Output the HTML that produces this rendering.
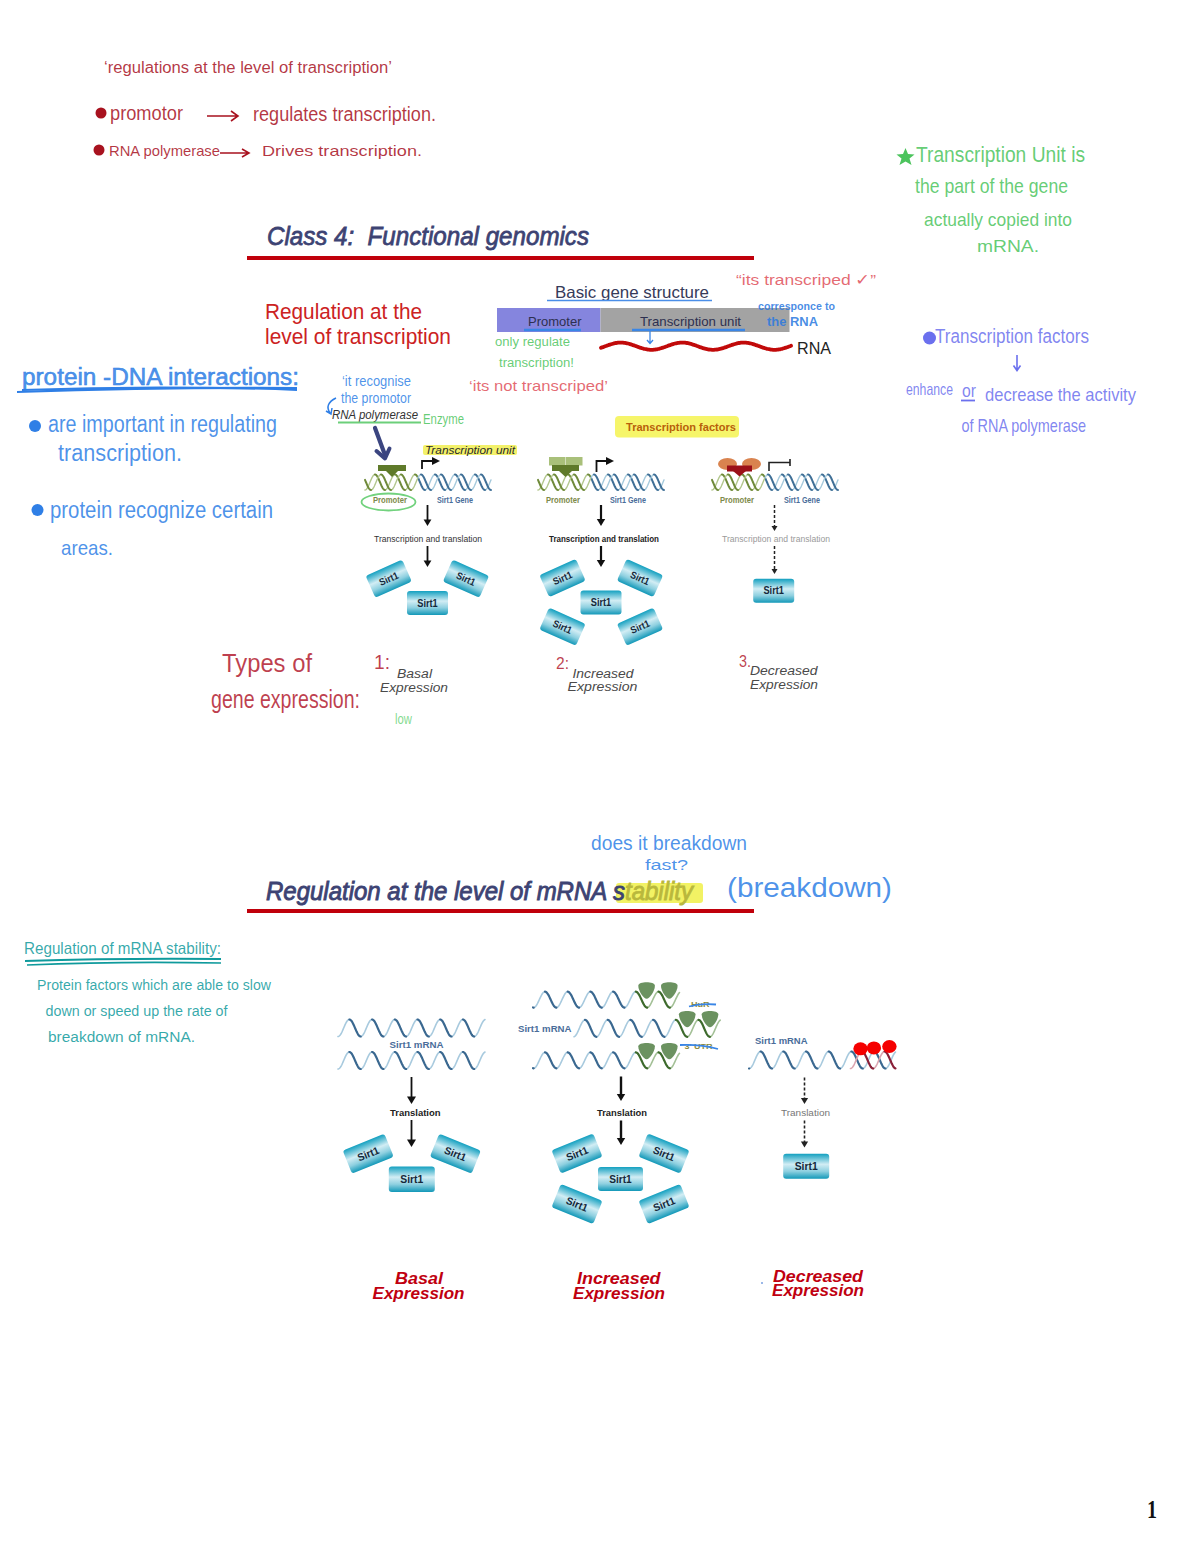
<!DOCTYPE html>
<html><head><meta charset="utf-8"><title>Class 4: Functional genomics</title>
<style>
html,body{margin:0;padding:0;background:#fff;}
body{width:1200px;height:1553px;overflow:hidden;font-family:"Liberation Sans",sans-serif;}
svg{display:block;}
</style></head>
<body>
<svg width="1200" height="1553" viewBox="0 0 1200 1553">
<defs>
<linearGradient id="tg" x1="0" y1="0" x2="0" y2="1">
<stop offset="0" stop-color="#13a0c0"/>
<stop offset="0.42" stop-color="#d2edf4"/>
<stop offset="0.7" stop-color="#8ed0e0"/>
<stop offset="1" stop-color="#1298b8"/>
</linearGradient>
</defs>
<rect x="0" y="0" width="1200" height="1553" fill="#fff"/>
<text x="104" y="73" font-size="16" fill="#a8121f" font-weight="normal" font-style="normal" font-family="Liberation Sans" textLength="288" lengthAdjust="spacingAndGlyphs"  fill-opacity="0.85">‘regulations at the level of transcription’</text>
<circle cx="101" cy="113" r="5.5" fill="#a8121f" />
<text x="110" y="120" font-size="20" fill="#a8121f" font-weight="normal" font-style="normal" font-family="Liberation Sans" textLength="73" lengthAdjust="spacingAndGlyphs"  fill-opacity="0.85">promotor</text>
<path d="M207,116 L238,116 M231,111 L238,116 L231,121" stroke="#a8121f" stroke-width="1.6" fill="none" />
<text x="253" y="121" font-size="20" fill="#a8121f" font-weight="normal" font-style="normal" font-family="Liberation Sans" textLength="183" lengthAdjust="spacingAndGlyphs"  fill-opacity="0.85">regulates transcription.</text>
<circle cx="99" cy="150" r="5.5" fill="#a8121f" />
<text x="109" y="156" font-size="15" fill="#a8121f" font-weight="normal" font-style="normal" font-family="Liberation Sans" textLength="111" lengthAdjust="spacingAndGlyphs"  fill-opacity="0.85">RNA polymerase</text>
<path d="M220,153 L249,153 M242,149 L249,153 L242,157" stroke="#a8121f" stroke-width="1.6" fill="none" />
<text x="262" y="156" font-size="15" fill="#a8121f" font-weight="normal" font-style="normal" font-family="Liberation Sans" textLength="160" lengthAdjust="spacingAndGlyphs"  fill-opacity="0.85">Drives transcription.</text>
<path d="M905.5,148 L908,154 L914.5,154.5 L909.5,158.5 L911.5,165 L905.5,161.5 L899.5,165 L901.5,158.5 L896.5,154.5 L903,154 Z" stroke="none" stroke-width="1" fill="#4cc45d" />
<text x="916" y="162" font-size="22" fill="#4cc45d" font-weight="normal" font-style="normal" font-family="Liberation Sans" textLength="169" lengthAdjust="spacingAndGlyphs"  fill-opacity="0.85">Transcription Unit is</text>
<text x="915" y="193" font-size="21" fill="#4cc45d" font-weight="normal" font-style="normal" font-family="Liberation Sans" textLength="153" lengthAdjust="spacingAndGlyphs"  fill-opacity="0.85">the part of the gene</text>
<text x="924" y="226" font-size="19" fill="#4cc45d" font-weight="normal" font-style="normal" font-family="Liberation Sans" textLength="148" lengthAdjust="spacingAndGlyphs"  fill-opacity="0.85">actually copied into</text>
<text x="977" y="252" font-size="17" fill="#4cc45d" font-weight="normal" font-style="normal" font-family="Liberation Sans" textLength="62" lengthAdjust="spacingAndGlyphs"  fill-opacity="0.85">mRNA.</text>
<circle cx="929.5" cy="338" r="6.5" fill="#6b70ee" />
<text x="935" y="342.5" font-size="20" fill="#6b70ee" font-weight="normal" font-style="normal" font-family="Liberation Sans" textLength="154" lengthAdjust="spacingAndGlyphs"  fill-opacity="0.85">Transcription factors</text>
<path d="M1017,355 L1017,370 M1013.5,365.5 L1017,370.5 L1020.5,365.5" stroke="#6b70ee" stroke-width="1.6" fill="none" />
<text x="906" y="395" font-size="17" fill="#6b70ee" font-weight="normal" font-style="normal" font-family="Liberation Sans" textLength="47" lengthAdjust="spacingAndGlyphs"  fill-opacity="0.85">enhance</text>
<text x="962" y="397" font-size="18" fill="#6b70ee" font-weight="normal" font-style="normal" font-family="Liberation Sans" textLength="14" lengthAdjust="spacingAndGlyphs"  fill-opacity="0.85">or</text>
<text x="985" y="401" font-size="19" fill="#6b70ee" font-weight="normal" font-style="normal" font-family="Liberation Sans" textLength="151" lengthAdjust="spacingAndGlyphs"  fill-opacity="0.85">decrease the activity</text>
<line x1="961" y1="400.5" x2="975" y2="400.5" stroke="#6b70ee" stroke-width="1.8" />
<text x="961.5" y="432" font-size="19" fill="#6b70ee" font-weight="normal" font-style="normal" font-family="Liberation Sans" textLength="124.5" lengthAdjust="spacingAndGlyphs"  fill-opacity="0.85">of RNA polymerase</text>
<text x="267" y="245" font-size="26" fill="#3d4373" font-weight="normal" font-style="italic" font-family="Liberation Sans" textLength="322" lengthAdjust="spacingAndGlyphs" stroke="#3d4373" stroke-width="0.8" xml:space="preserve">Class 4:  Functional genomics</text>
<rect x="247" y="256" width="507" height="4" fill="#c0000b" rx="0" />
<text x="265" y="319" font-size="21.5" fill="#cc2222" font-weight="normal" font-style="normal" font-family="Liberation Sans" textLength="157" lengthAdjust="spacingAndGlyphs" >Regulation at the</text>
<text x="265" y="344" font-size="21.5" fill="#cc2222" font-weight="normal" font-style="normal" font-family="Liberation Sans" textLength="186" lengthAdjust="spacingAndGlyphs" >level of transcription</text>
<text x="555" y="297.5" font-size="16.5" fill="#353a5a" font-weight="normal" font-style="normal" font-family="Liberation Sans" textLength="154" lengthAdjust="spacingAndGlyphs" >Basic gene structure</text>
<line x1="547" y1="300.5" x2="712" y2="300.5" stroke="#4a8ee8" stroke-width="1.5" />
<rect x="497" y="308" width="103.5" height="24" fill="#8585de" rx="0" />
<rect x="600.5" y="308" width="189" height="24" fill="#a3a3a3" rx="0" />
<text x="528" y="326" font-size="13" fill="#2d3050" font-weight="normal" font-style="normal" font-family="Liberation Sans" textLength="53.5" lengthAdjust="spacingAndGlyphs" >Promoter</text>
<text x="640" y="326" font-size="13" fill="#2d3050" font-weight="normal" font-style="normal" font-family="Liberation Sans" textLength="101" lengthAdjust="spacingAndGlyphs" >Transcription unit</text>
<line x1="524" y1="330" x2="581" y2="330" stroke="#3a86e6" stroke-width="2.5" />
<line x1="632" y1="330" x2="745" y2="330" stroke="#3a86e6" stroke-width="2.5" />
<path d="M650,331 L650,343 M647,340 L650,343.5 L653,340" stroke="#3a86e6" stroke-width="1.3" fill="none" />
<path d="M601,347.8 L602,347.4 L603,347.1 L604,346.7 L605,346.3 L606,346.0 L607,345.6 L608,345.3 L609,344.9 L610,344.6 L611,344.3 L612,344.0 L613,343.7 L614,343.4 L615,343.2 L616,343.0 L617,342.9 L618,342.7 L619,342.7 L620,342.6 L621,342.6 L622,342.6 L623,342.7 L624,342.8 L625,342.9 L626,343.1 L627,343.3 L628,343.5 L629,343.8 L630,344.1 L631,344.4 L632,344.7 L633,345.1 L634,345.4 L635,345.8 L636,346.1 L637,346.5 L638,346.9 L639,347.2 L640,347.6 L641,347.9 L642,348.2 L643,348.5 L644,348.8 L645,349.0 L646,349.2 L647,349.4 L648,349.6 L649,349.7 L650,349.8 L651,349.8 L652,349.8 L653,349.8 L654,349.7 L655,349.6 L656,349.4 L657,349.3 L658,349.0 L659,348.8 L660,348.5 L661,348.2 L662,347.9 L663,347.6 L664,347.3 L665,346.9 L666,346.5 L667,346.2 L668,345.8 L669,345.4 L670,345.1 L671,344.7 L672,344.4 L673,344.1 L674,343.8 L675,343.5 L676,343.3 L677,343.1 L678,342.9 L679,342.8 L680,342.7 L681,342.6 L682,342.6 L683,342.6 L684,342.7 L685,342.7 L686,342.9 L687,343.0 L688,343.2 L689,343.4 L690,343.7 L691,343.9 L692,344.2 L693,344.6 L694,344.9 L695,345.2 L696,345.6 L697,346.0 L698,346.3 L699,346.7 L700,347.1 L701,347.4 L702,347.7 L703,348.1 L704,348.4 L705,348.7 L706,348.9 L707,349.1 L708,349.3 L709,349.5 L710,349.6 L711,349.7 L712,349.8 L713,349.8 L714,349.8 L715,349.7 L716,349.6 L717,349.5 L718,349.3 L719,349.1 L720,348.9 L721,348.7 L722,348.4 L723,348.1 L724,347.8 L725,347.4 L726,347.1 L727,346.7 L728,346.3 L729,346.0 L730,345.6 L731,345.3 L732,344.9 L733,344.6 L734,344.3 L735,344.0 L736,343.7 L737,343.4 L738,343.2 L739,343.0 L740,342.9 L741,342.7 L742,342.7 L743,342.6 L744,342.6 L745,342.6 L746,342.7 L747,342.8 L748,342.9 L749,343.1 L750,343.3 L751,343.5 L752,343.8 L753,344.1 L754,344.4 L755,344.7 L756,345.1 L757,345.4 L758,345.8 L759,346.1 L760,346.5 L761,346.9 L762,347.2 L763,347.6 L764,347.9 L765,348.2 L766,348.5 L767,348.8 L768,349.0 L769,349.2 L770,349.4 L771,349.6 L772,349.7 L773,349.8 L774,349.8 L775,349.8 L776,349.8 L777,349.7 L778,349.6 L779,349.4 L780,349.3 L781,349.0 L782,348.8 L783,348.5 L784,348.2 L785,347.9 L786,347.6 L787,347.3 L788,346.9 L789,346.5 L790,346.2 L791,345.8" stroke="#c10a0a" stroke-width="3.8" fill="none" stroke-linecap="round"/>
<text x="797" y="354" font-size="16.5" fill="#222" font-weight="normal" font-style="normal" font-family="Liberation Sans" textLength="34" lengthAdjust="spacingAndGlyphs" >RNA</text>
<text x="736" y="285" font-size="15.5" fill="#e0505a" font-weight="normal" font-style="normal" font-family="Liberation Sans" textLength="140" lengthAdjust="spacingAndGlyphs"  fill-opacity="0.85">“its transcriped ✓”</text>
<text x="758" y="310" font-size="11" fill="#2a78e0" font-weight="bold" font-style="normal" font-family="Liberation Sans" textLength="77" lengthAdjust="spacingAndGlyphs"  fill-opacity="0.85">corresponce to</text>
<text x="767" y="326" font-size="12" fill="#2a78e0" font-weight="bold" font-style="normal" font-family="Liberation Sans" textLength="51" lengthAdjust="spacingAndGlyphs"  fill-opacity="0.85">the RNA</text>
<text x="495" y="346" font-size="12.5" fill="#4cc45d" font-weight="normal" font-style="normal" font-family="Liberation Sans" textLength="75" lengthAdjust="spacingAndGlyphs"  fill-opacity="0.85">only regulate</text>
<text x="499" y="367" font-size="12.5" fill="#4cc45d" font-weight="normal" font-style="normal" font-family="Liberation Sans" textLength="75" lengthAdjust="spacingAndGlyphs"  fill-opacity="0.85">transcription!</text>
<text x="469" y="391" font-size="14.5" fill="#e0505a" font-weight="normal" font-style="normal" font-family="Liberation Sans" textLength="139" lengthAdjust="spacingAndGlyphs"  fill-opacity="0.85">‘its not transcriped’</text>
<text x="22" y="385" font-size="23" fill="#2f7fe6" font-weight="normal" font-style="normal" font-family="Liberation Sans" textLength="277" lengthAdjust="spacingAndGlyphs" stroke="#2f7fe6" stroke-width="0.5" fill-opacity="0.85">protein -DNA interactions:</text>
<path d="M17,392 Q160,387 297,388" stroke="#2f7fe6" stroke-width="2.2" fill="none" />
<path d="M22,390 Q160,385 297,390" stroke="#2f7fe6" stroke-width="1.8" fill="none" />
<circle cx="35" cy="426" r="6" fill="#2f7fe6" />
<text x="48" y="432" font-size="23" fill="#2f7fe6" font-weight="normal" font-style="normal" font-family="Liberation Sans" textLength="229" lengthAdjust="spacingAndGlyphs"  fill-opacity="0.85">are important in regulating</text>
<text x="58" y="461" font-size="23" fill="#2f7fe6" font-weight="normal" font-style="normal" font-family="Liberation Sans" textLength="124" lengthAdjust="spacingAndGlyphs"  fill-opacity="0.85">transcription.</text>
<circle cx="37.5" cy="510" r="6" fill="#2f7fe6" />
<text x="50" y="518" font-size="23" fill="#2f7fe6" font-weight="normal" font-style="normal" font-family="Liberation Sans" textLength="223" lengthAdjust="spacingAndGlyphs"  fill-opacity="0.85">protein recognize certain</text>
<text x="61" y="555" font-size="21" fill="#2f7fe6" font-weight="normal" font-style="normal" font-family="Liberation Sans" textLength="52" lengthAdjust="spacingAndGlyphs"  fill-opacity="0.85">areas.</text>
<text x="342" y="386" font-size="14" fill="#2f7fe6" font-weight="normal" font-style="normal" font-family="Liberation Sans" textLength="69" lengthAdjust="spacingAndGlyphs"  fill-opacity="0.85">‘it recognise</text>
<text x="341" y="402.5" font-size="14" fill="#2f7fe6" font-weight="normal" font-style="normal" font-family="Liberation Sans" textLength="70" lengthAdjust="spacingAndGlyphs"  fill-opacity="0.85">the promotor</text>
<path d="M336,398 Q324,404 330,413 M326,411 L331,414 L332,408" stroke="#2f7fe6" stroke-width="1.5" fill="none" />
<text x="332" y="419" font-size="12" fill="#333" font-weight="normal" font-style="italic" font-family="Liberation Sans" textLength="86" lengthAdjust="spacingAndGlyphs" >RNA polymerase</text>
<line x1="338" y1="422.5" x2="421" y2="422.5" stroke="#6ccf7a" stroke-width="1.8" />
<text x="423" y="424" font-size="14" fill="#4cc45d" font-weight="normal" font-style="normal" font-family="Liberation Sans" textLength="41" lengthAdjust="spacingAndGlyphs"  fill-opacity="0.85">Enzyme</text>
<path d="M375,428 L385,455" stroke="#3b4580" stroke-width="4.2" fill="none" stroke-linecap="round"/>
<path d="M376.5,451 L385,458.5 L389.5,448.5" stroke="#3b4580" stroke-width="4" fill="none" stroke-linecap="round" stroke-linejoin="round"/>
<rect x="423" y="445" width="94" height="10" fill="#f3f16a" rx="2" />
<text x="425" y="453.5" font-size="11" fill="#2a2a2a" font-weight="normal" font-style="italic" font-family="Liberation Sans" textLength="90" lengthAdjust="spacingAndGlyphs" >Transcription unit</text>
<rect x="615" y="416" width="124" height="21.5" fill="#f6f56a" rx="4" />
<text x="626" y="431" font-size="11.5" fill="#b8600a" font-weight="bold" font-style="normal" font-family="Liberation Sans" textLength="110" lengthAdjust="spacingAndGlyphs" >Transcription factors</text>
<path d="M365.00,490.00 L365.50,489.90 L366.00,489.62 L366.50,489.16 L367.00,488.52 L367.50,487.73 L368.00,486.81 L368.50,485.77 L369.00,484.64 L369.50,483.46 L370.00,482.25 L370.50,481.04 L371.00,479.86 L371.50,478.73 L372.00,477.69 L372.50,476.77 L373.00,475.98 L373.50,475.34 L374.00,474.88 L374.50,474.60 L375.00,474.50 M385.00,490.00 L385.50,489.90 L386.00,489.62 L386.50,489.16 L387.00,488.52 L387.50,487.73 L388.00,486.81 L388.50,485.77 L389.00,484.64 L389.50,483.46 L390.00,482.25 L390.50,481.04 L391.00,479.86 L391.50,478.73 L392.00,477.69 L392.50,476.77 L393.00,475.98 L393.50,475.34 L394.00,474.88 L394.50,474.60 L395.00,474.50 M405.00,490.00 L405.50,489.90 L406.00,489.62 L406.50,489.16 L407.00,488.52 L407.50,487.73 L408.00,486.81 L408.50,485.77 L409.00,484.64 L409.50,483.46 L410.00,482.25 L410.50,481.04 L411.00,479.86 L411.50,478.73 L412.00,477.69 L412.50,476.77 L413.00,475.98 L413.50,475.34 L414.00,474.88 L414.50,474.60 L415.00,474.50" stroke="#b3c78e" stroke-width="1.4" fill="none" stroke-linecap="round"/>
<path d="M375.00,474.50 L375.50,474.60 L376.00,474.88 L376.50,475.34 L377.00,475.98 L377.50,476.77 L378.00,477.69 L378.50,478.73 L379.00,479.86 L379.50,481.04 L380.00,482.25 L380.50,483.46 L381.00,484.64 L381.50,485.77 L382.00,486.81 L382.50,487.73 L383.00,488.52 L383.50,489.16 L384.00,489.62 L384.50,489.90 L385.00,490.00 M395.00,474.50 L395.50,474.60 L396.00,474.88 L396.50,475.34 L397.00,475.98 L397.50,476.77 L398.00,477.69 L398.50,478.73 L399.00,479.86 L399.50,481.04 L400.00,482.25 L400.50,483.46 L401.00,484.64 L401.50,485.77 L402.00,486.81 L402.50,487.73 L403.00,488.52 L403.50,489.16 L404.00,489.62 L404.50,489.90 L405.00,490.00 M415.00,474.50 L415.50,474.60 L416.00,474.88 L416.50,475.34 L417.00,475.98 L417.50,476.77 L418.00,477.69" stroke="#6f8a3a" stroke-width="2.0" fill="none" stroke-linecap="round"/>
<path d="M425.00,490.00 L425.50,489.90 L426.00,489.62 L426.50,489.16 L427.00,488.52 L427.50,487.73 L428.00,486.81 L428.50,485.77 L429.00,484.64 L429.50,483.46 L430.00,482.25 L430.50,481.04 L431.00,479.86 L431.50,478.73 L432.00,477.69 L432.50,476.77 L433.00,475.98 L433.50,475.34 L434.00,474.88 L434.50,474.60 L435.00,474.50 M445.00,490.00 L445.50,489.90 L446.00,489.62 L446.50,489.16 L447.00,488.52 L447.50,487.73 L448.00,486.81 L448.50,485.77 L449.00,484.64 L449.50,483.46 L450.00,482.25 L450.50,481.04 L451.00,479.86 L451.50,478.73 L452.00,477.69 L452.50,476.77 L453.00,475.98 L453.50,475.34 L454.00,474.88 L454.50,474.60 L455.00,474.50 M465.00,490.00 L465.50,489.90 L466.00,489.62 L466.50,489.16 L467.00,488.52 L467.50,487.73 L468.00,486.81 L468.50,485.77 L469.00,484.64 L469.50,483.46 L470.00,482.25 L470.50,481.04 L471.00,479.86 L471.50,478.73 L472.00,477.69 L472.50,476.77 L473.00,475.98 L473.50,475.34 L474.00,474.88 L474.50,474.60 L475.00,474.50 M485.00,490.00 L485.50,489.90 L486.00,489.62 L486.50,489.16 L487.00,488.52 L487.50,487.73 L488.00,486.81 L488.50,485.77 L489.00,484.64 L489.50,483.46 L490.00,482.25 L490.50,481.04 L491.00,479.86" stroke="#a6cadc" stroke-width="1.4" fill="none" stroke-linecap="round"/>
<path d="M418.00,477.69 L418.50,478.73 L419.00,479.86 L419.50,481.04 L420.00,482.25 L420.50,483.46 L421.00,484.64 L421.50,485.77 L422.00,486.81 L422.50,487.73 L423.00,488.52 L423.50,489.16 L424.00,489.62 L424.50,489.90 L425.00,490.00 M435.00,474.50 L435.50,474.60 L436.00,474.88 L436.50,475.34 L437.00,475.98 L437.50,476.77 L438.00,477.69 L438.50,478.73 L439.00,479.86 L439.50,481.04 L440.00,482.25 L440.50,483.46 L441.00,484.64 L441.50,485.77 L442.00,486.81 L442.50,487.73 L443.00,488.52 L443.50,489.16 L444.00,489.62 L444.50,489.90 L445.00,490.00 M455.00,474.50 L455.50,474.60 L456.00,474.88 L456.50,475.34 L457.00,475.98 L457.50,476.77 L458.00,477.69 L458.50,478.73 L459.00,479.86 L459.50,481.04 L460.00,482.25 L460.50,483.46 L461.00,484.64 L461.50,485.77 L462.00,486.81 L462.50,487.73 L463.00,488.52 L463.50,489.16 L464.00,489.62 L464.50,489.90 L465.00,490.00 M475.00,474.50 L475.50,474.60 L476.00,474.88 L476.50,475.34 L477.00,475.98 L477.50,476.77 L478.00,477.69 L478.50,478.73 L479.00,479.86 L479.50,481.04 L480.00,482.25 L480.50,483.46 L481.00,484.64 L481.50,485.77 L482.00,486.81 L482.50,487.73 L483.00,488.52 L483.50,489.16 L484.00,489.62 L484.50,489.90 L485.00,490.00" stroke="#3f6f96" stroke-width="2.0" fill="none" stroke-linecap="round"/>
<path d="M371.00,490.00 L371.50,489.90 L372.00,489.62 L372.50,489.16 L373.00,488.52 L373.50,487.73 L374.00,486.81 L374.50,485.77 L375.00,484.64 L375.50,483.46 L376.00,482.25 L376.50,481.04 L377.00,479.86 L377.50,478.73 L378.00,477.69 L378.50,476.77 L379.00,475.98 L379.50,475.34 L380.00,474.88 L380.50,474.60 L381.00,474.50 M391.00,490.00 L391.50,489.90 L392.00,489.62 L392.50,489.16 L393.00,488.52 L393.50,487.73 L394.00,486.81 L394.50,485.77 L395.00,484.64 L395.50,483.46 L396.00,482.25 L396.50,481.04 L397.00,479.86 L397.50,478.73 L398.00,477.69 L398.50,476.77 L399.00,475.98 L399.50,475.34 L400.00,474.88 L400.50,474.60 L401.00,474.50 M411.00,490.00 L411.50,489.90 L412.00,489.62 L412.50,489.16 L413.00,488.52 L413.50,487.73 L414.00,486.81 L414.50,485.77 L415.00,484.64 L415.50,483.46 L416.00,482.25 L416.50,481.04 L417.00,479.86 L417.50,478.73 L418.00,477.69" stroke="#b3c78e" stroke-width="1.4" fill="none" stroke-linecap="round"/>
<path d="M365.00,479.86 L365.50,481.04 L366.00,482.25 L366.50,483.46 L367.00,484.64 L367.50,485.77 L368.00,486.81 L368.50,487.73 L369.00,488.52 L369.50,489.16 L370.00,489.62 L370.50,489.90 L371.00,490.00 M381.00,474.50 L381.50,474.60 L382.00,474.88 L382.50,475.34 L383.00,475.98 L383.50,476.77 L384.00,477.69 L384.50,478.73 L385.00,479.86 L385.50,481.04 L386.00,482.25 L386.50,483.46 L387.00,484.64 L387.50,485.77 L388.00,486.81 L388.50,487.73 L389.00,488.52 L389.50,489.16 L390.00,489.62 L390.50,489.90 L391.00,490.00 M401.00,474.50 L401.50,474.60 L402.00,474.88 L402.50,475.34 L403.00,475.98 L403.50,476.77 L404.00,477.69 L404.50,478.73 L405.00,479.86 L405.50,481.04 L406.00,482.25 L406.50,483.46 L407.00,484.64 L407.50,485.77 L408.00,486.81 L408.50,487.73 L409.00,488.52 L409.50,489.16 L410.00,489.62 L410.50,489.90 L411.00,490.00" stroke="#6f8a3a" stroke-width="2.0" fill="none" stroke-linecap="round"/>
<path d="M418.00,477.69 L418.50,476.77 L419.00,475.98 L419.50,475.34 L420.00,474.88 L420.50,474.60 L421.00,474.50 M431.00,490.00 L431.50,489.90 L432.00,489.62 L432.50,489.16 L433.00,488.52 L433.50,487.73 L434.00,486.81 L434.50,485.77 L435.00,484.64 L435.50,483.46 L436.00,482.25 L436.50,481.04 L437.00,479.86 L437.50,478.73 L438.00,477.69 L438.50,476.77 L439.00,475.98 L439.50,475.34 L440.00,474.88 L440.50,474.60 L441.00,474.50 M451.00,490.00 L451.50,489.90 L452.00,489.62 L452.50,489.16 L453.00,488.52 L453.50,487.73 L454.00,486.81 L454.50,485.77 L455.00,484.64 L455.50,483.46 L456.00,482.25 L456.50,481.04 L457.00,479.86 L457.50,478.73 L458.00,477.69 L458.50,476.77 L459.00,475.98 L459.50,475.34 L460.00,474.88 L460.50,474.60 L461.00,474.50 M471.00,490.00 L471.50,489.90 L472.00,489.62 L472.50,489.16 L473.00,488.52 L473.50,487.73 L474.00,486.81 L474.50,485.77 L475.00,484.64 L475.50,483.46 L476.00,482.25 L476.50,481.04 L477.00,479.86 L477.50,478.73 L478.00,477.69 L478.50,476.77 L479.00,475.98 L479.50,475.34 L480.00,474.88 L480.50,474.60 L481.00,474.50" stroke="#a6cadc" stroke-width="1.4" fill="none" stroke-linecap="round"/>
<path d="M421.00,474.50 L421.50,474.60 L422.00,474.88 L422.50,475.34 L423.00,475.98 L423.50,476.77 L424.00,477.69 L424.50,478.73 L425.00,479.86 L425.50,481.04 L426.00,482.25 L426.50,483.46 L427.00,484.64 L427.50,485.77 L428.00,486.81 L428.50,487.73 L429.00,488.52 L429.50,489.16 L430.00,489.62 L430.50,489.90 L431.00,490.00 M441.00,474.50 L441.50,474.60 L442.00,474.88 L442.50,475.34 L443.00,475.98 L443.50,476.77 L444.00,477.69 L444.50,478.73 L445.00,479.86 L445.50,481.04 L446.00,482.25 L446.50,483.46 L447.00,484.64 L447.50,485.77 L448.00,486.81 L448.50,487.73 L449.00,488.52 L449.50,489.16 L450.00,489.62 L450.50,489.90 L451.00,490.00 M461.00,474.50 L461.50,474.60 L462.00,474.88 L462.50,475.34 L463.00,475.98 L463.50,476.77 L464.00,477.69 L464.50,478.73 L465.00,479.86 L465.50,481.04 L466.00,482.25 L466.50,483.46 L467.00,484.64 L467.50,485.77 L468.00,486.81 L468.50,487.73 L469.00,488.52 L469.50,489.16 L470.00,489.62 L470.50,489.90 L471.00,490.00 M481.00,474.50 L481.50,474.60 L482.00,474.88 L482.50,475.34 L483.00,475.98 L483.50,476.77 L484.00,477.69 L484.50,478.73 L485.00,479.86 L485.50,481.04 L486.00,482.25 L486.50,483.46 L487.00,484.64 L487.50,485.77 L488.00,486.81 L488.50,487.73 L489.00,488.52 L489.50,489.16 L490.00,489.62 L490.50,489.90 L491.00,490.00" stroke="#3f6f96" stroke-width="2.0" fill="none" stroke-linecap="round"/>
<text x="373" y="503" font-size="8.5" fill="#7d8a4a" font-weight="bold" font-style="normal" font-family="Liberation Sans" textLength="34" lengthAdjust="spacingAndGlyphs" >Promoter</text>
<text x="437" y="503" font-size="8.5" fill="#4a6d9a" font-weight="bold" font-style="normal" font-family="Liberation Sans" textLength="36" lengthAdjust="spacingAndGlyphs" >Sirt1 Gene</text>
<rect x="378" y="465" width="28" height="6" fill="#5f7a2a" rx="0" />
<path d="M386,471 L398,471 L392,477 Z" stroke="none" stroke-width="1" fill="#5f7a2a" />
<path d="M422,469 L422,461 L433,461" stroke="#111" stroke-width="1.8" fill="none" />
<path d="M432,457 L440,461 L432,465 Z" stroke="none" stroke-width="1" fill="#111" />
<ellipse cx="388.5" cy="502" rx="27" ry="8.5" fill="none" stroke="#72d27e" stroke-width="1.8"/>
<line x1="427.5" y1="505" x2="427.5" y2="520.5" stroke="#111" stroke-width="1.8" />
<path d="M423.6,519.5 L431.4,519.5 L427.5,526 Z" stroke="none" stroke-width="1" fill="#111" />
<text x="374" y="542" font-size="9" fill="#333" font-weight="normal" font-style="normal" font-family="Liberation Sans" textLength="108" lengthAdjust="spacingAndGlyphs" >Transcription and translation</text>
<line x1="427.5" y1="546" x2="427.5" y2="561.5" stroke="#111" stroke-width="1.8" />
<path d="M423.6,560.5 L431.4,560.5 L427.5,567 Z" stroke="none" stroke-width="1" fill="#111" />
<g transform="translate(388.7,578.7) rotate(-24)">
<rect x="-20.0" y="-12.0" width="40" height="24" rx="3" fill="url(#tg)"/>
<text x="0" y="3.6" text-anchor="middle" font-size="10" font-family="Liberation Sans" font-weight="bold" fill="#15283a" textLength="20.0" lengthAdjust="spacingAndGlyphs">Sirt1</text>
</g>
<g transform="translate(466,578.7) rotate(24)">
<rect x="-20.0" y="-12.0" width="40" height="24" rx="3" fill="url(#tg)"/>
<text x="0" y="3.6" text-anchor="middle" font-size="10" font-family="Liberation Sans" font-weight="bold" fill="#15283a" textLength="20.0" lengthAdjust="spacingAndGlyphs">Sirt1</text>
</g>
<g transform="translate(427.5,603) rotate(0)">
<rect x="-20.5" y="-12.0" width="41" height="24" rx="3" fill="url(#tg)"/>
<text x="0" y="3.6" text-anchor="middle" font-size="10" font-family="Liberation Sans" font-weight="bold" fill="#15283a" textLength="20.5" lengthAdjust="spacingAndGlyphs">Sirt1</text>
</g>
<path d="M538.00,490.00 L538.50,489.90 L539.00,489.62 L539.50,489.16 L540.00,488.52 L540.50,487.73 L541.00,486.81 L541.50,485.77 L542.00,484.64 L542.50,483.46 L543.00,482.25 L543.50,481.04 L544.00,479.86 L544.50,478.73 L545.00,477.69 L545.50,476.77 L546.00,475.98 L546.50,475.34 L547.00,474.88 L547.50,474.60 L548.00,474.50 M558.00,490.00 L558.50,489.90 L559.00,489.62 L559.50,489.16 L560.00,488.52 L560.50,487.73 L561.00,486.81 L561.50,485.77 L562.00,484.64 L562.50,483.46 L563.00,482.25 L563.50,481.04 L564.00,479.86 L564.50,478.73 L565.00,477.69 L565.50,476.77 L566.00,475.98 L566.50,475.34 L567.00,474.88 L567.50,474.60 L568.00,474.50 M578.00,490.00 L578.50,489.90 L579.00,489.62 L579.50,489.16 L580.00,488.52 L580.50,487.73 L581.00,486.81 L581.50,485.77 L582.00,484.64 L582.50,483.46 L583.00,482.25 L583.50,481.04 L584.00,479.86 L584.50,478.73 L585.00,477.69 L585.50,476.77 L586.00,475.98 L586.50,475.34 L587.00,474.88 L587.50,474.60 L588.00,474.50" stroke="#b3c78e" stroke-width="1.4" fill="none" stroke-linecap="round"/>
<path d="M548.00,474.50 L548.50,474.60 L549.00,474.88 L549.50,475.34 L550.00,475.98 L550.50,476.77 L551.00,477.69 L551.50,478.73 L552.00,479.86 L552.50,481.04 L553.00,482.25 L553.50,483.46 L554.00,484.64 L554.50,485.77 L555.00,486.81 L555.50,487.73 L556.00,488.52 L556.50,489.16 L557.00,489.62 L557.50,489.90 L558.00,490.00 M568.00,474.50 L568.50,474.60 L569.00,474.88 L569.50,475.34 L570.00,475.98 L570.50,476.77 L571.00,477.69 L571.50,478.73 L572.00,479.86 L572.50,481.04 L573.00,482.25 L573.50,483.46 L574.00,484.64 L574.50,485.77 L575.00,486.81 L575.50,487.73 L576.00,488.52 L576.50,489.16 L577.00,489.62 L577.50,489.90 L578.00,490.00 M588.00,474.50 L588.50,474.60 L589.00,474.88 L589.50,475.34 L590.00,475.98 L590.50,476.77 L591.00,477.69" stroke="#6f8a3a" stroke-width="2.0" fill="none" stroke-linecap="round"/>
<path d="M598.00,490.00 L598.50,489.90 L599.00,489.62 L599.50,489.16 L600.00,488.52 L600.50,487.73 L601.00,486.81 L601.50,485.77 L602.00,484.64 L602.50,483.46 L603.00,482.25 L603.50,481.04 L604.00,479.86 L604.50,478.73 L605.00,477.69 L605.50,476.77 L606.00,475.98 L606.50,475.34 L607.00,474.88 L607.50,474.60 L608.00,474.50 M618.00,490.00 L618.50,489.90 L619.00,489.62 L619.50,489.16 L620.00,488.52 L620.50,487.73 L621.00,486.81 L621.50,485.77 L622.00,484.64 L622.50,483.46 L623.00,482.25 L623.50,481.04 L624.00,479.86 L624.50,478.73 L625.00,477.69 L625.50,476.77 L626.00,475.98 L626.50,475.34 L627.00,474.88 L627.50,474.60 L628.00,474.50 M638.00,490.00 L638.50,489.90 L639.00,489.62 L639.50,489.16 L640.00,488.52 L640.50,487.73 L641.00,486.81 L641.50,485.77 L642.00,484.64 L642.50,483.46 L643.00,482.25 L643.50,481.04 L644.00,479.86 L644.50,478.73 L645.00,477.69 L645.50,476.77 L646.00,475.98 L646.50,475.34 L647.00,474.88 L647.50,474.60 L648.00,474.50 M658.00,490.00 L658.50,489.90 L659.00,489.62 L659.50,489.16 L660.00,488.52 L660.50,487.73 L661.00,486.81 L661.50,485.77 L662.00,484.64 L662.50,483.46 L663.00,482.25 L663.50,481.04 L664.00,479.86" stroke="#a6cadc" stroke-width="1.4" fill="none" stroke-linecap="round"/>
<path d="M591.00,477.69 L591.50,478.73 L592.00,479.86 L592.50,481.04 L593.00,482.25 L593.50,483.46 L594.00,484.64 L594.50,485.77 L595.00,486.81 L595.50,487.73 L596.00,488.52 L596.50,489.16 L597.00,489.62 L597.50,489.90 L598.00,490.00 M608.00,474.50 L608.50,474.60 L609.00,474.88 L609.50,475.34 L610.00,475.98 L610.50,476.77 L611.00,477.69 L611.50,478.73 L612.00,479.86 L612.50,481.04 L613.00,482.25 L613.50,483.46 L614.00,484.64 L614.50,485.77 L615.00,486.81 L615.50,487.73 L616.00,488.52 L616.50,489.16 L617.00,489.62 L617.50,489.90 L618.00,490.00 M628.00,474.50 L628.50,474.60 L629.00,474.88 L629.50,475.34 L630.00,475.98 L630.50,476.77 L631.00,477.69 L631.50,478.73 L632.00,479.86 L632.50,481.04 L633.00,482.25 L633.50,483.46 L634.00,484.64 L634.50,485.77 L635.00,486.81 L635.50,487.73 L636.00,488.52 L636.50,489.16 L637.00,489.62 L637.50,489.90 L638.00,490.00 M648.00,474.50 L648.50,474.60 L649.00,474.88 L649.50,475.34 L650.00,475.98 L650.50,476.77 L651.00,477.69 L651.50,478.73 L652.00,479.86 L652.50,481.04 L653.00,482.25 L653.50,483.46 L654.00,484.64 L654.50,485.77 L655.00,486.81 L655.50,487.73 L656.00,488.52 L656.50,489.16 L657.00,489.62 L657.50,489.90 L658.00,490.00" stroke="#3f6f96" stroke-width="2.0" fill="none" stroke-linecap="round"/>
<path d="M544.00,490.00 L544.50,489.90 L545.00,489.62 L545.50,489.16 L546.00,488.52 L546.50,487.73 L547.00,486.81 L547.50,485.77 L548.00,484.64 L548.50,483.46 L549.00,482.25 L549.50,481.04 L550.00,479.86 L550.50,478.73 L551.00,477.69 L551.50,476.77 L552.00,475.98 L552.50,475.34 L553.00,474.88 L553.50,474.60 L554.00,474.50 M564.00,490.00 L564.50,489.90 L565.00,489.62 L565.50,489.16 L566.00,488.52 L566.50,487.73 L567.00,486.81 L567.50,485.77 L568.00,484.64 L568.50,483.46 L569.00,482.25 L569.50,481.04 L570.00,479.86 L570.50,478.73 L571.00,477.69 L571.50,476.77 L572.00,475.98 L572.50,475.34 L573.00,474.88 L573.50,474.60 L574.00,474.50 M584.00,490.00 L584.50,489.90 L585.00,489.62 L585.50,489.16 L586.00,488.52 L586.50,487.73 L587.00,486.81 L587.50,485.77 L588.00,484.64 L588.50,483.46 L589.00,482.25 L589.50,481.04 L590.00,479.86 L590.50,478.73 L591.00,477.69" stroke="#b3c78e" stroke-width="1.4" fill="none" stroke-linecap="round"/>
<path d="M538.00,479.86 L538.50,481.04 L539.00,482.25 L539.50,483.46 L540.00,484.64 L540.50,485.77 L541.00,486.81 L541.50,487.73 L542.00,488.52 L542.50,489.16 L543.00,489.62 L543.50,489.90 L544.00,490.00 M554.00,474.50 L554.50,474.60 L555.00,474.88 L555.50,475.34 L556.00,475.98 L556.50,476.77 L557.00,477.69 L557.50,478.73 L558.00,479.86 L558.50,481.04 L559.00,482.25 L559.50,483.46 L560.00,484.64 L560.50,485.77 L561.00,486.81 L561.50,487.73 L562.00,488.52 L562.50,489.16 L563.00,489.62 L563.50,489.90 L564.00,490.00 M574.00,474.50 L574.50,474.60 L575.00,474.88 L575.50,475.34 L576.00,475.98 L576.50,476.77 L577.00,477.69 L577.50,478.73 L578.00,479.86 L578.50,481.04 L579.00,482.25 L579.50,483.46 L580.00,484.64 L580.50,485.77 L581.00,486.81 L581.50,487.73 L582.00,488.52 L582.50,489.16 L583.00,489.62 L583.50,489.90 L584.00,490.00" stroke="#6f8a3a" stroke-width="2.0" fill="none" stroke-linecap="round"/>
<path d="M591.00,477.69 L591.50,476.77 L592.00,475.98 L592.50,475.34 L593.00,474.88 L593.50,474.60 L594.00,474.50 M604.00,490.00 L604.50,489.90 L605.00,489.62 L605.50,489.16 L606.00,488.52 L606.50,487.73 L607.00,486.81 L607.50,485.77 L608.00,484.64 L608.50,483.46 L609.00,482.25 L609.50,481.04 L610.00,479.86 L610.50,478.73 L611.00,477.69 L611.50,476.77 L612.00,475.98 L612.50,475.34 L613.00,474.88 L613.50,474.60 L614.00,474.50 M624.00,490.00 L624.50,489.90 L625.00,489.62 L625.50,489.16 L626.00,488.52 L626.50,487.73 L627.00,486.81 L627.50,485.77 L628.00,484.64 L628.50,483.46 L629.00,482.25 L629.50,481.04 L630.00,479.86 L630.50,478.73 L631.00,477.69 L631.50,476.77 L632.00,475.98 L632.50,475.34 L633.00,474.88 L633.50,474.60 L634.00,474.50 M644.00,490.00 L644.50,489.90 L645.00,489.62 L645.50,489.16 L646.00,488.52 L646.50,487.73 L647.00,486.81 L647.50,485.77 L648.00,484.64 L648.50,483.46 L649.00,482.25 L649.50,481.04 L650.00,479.86 L650.50,478.73 L651.00,477.69 L651.50,476.77 L652.00,475.98 L652.50,475.34 L653.00,474.88 L653.50,474.60 L654.00,474.50" stroke="#a6cadc" stroke-width="1.4" fill="none" stroke-linecap="round"/>
<path d="M594.00,474.50 L594.50,474.60 L595.00,474.88 L595.50,475.34 L596.00,475.98 L596.50,476.77 L597.00,477.69 L597.50,478.73 L598.00,479.86 L598.50,481.04 L599.00,482.25 L599.50,483.46 L600.00,484.64 L600.50,485.77 L601.00,486.81 L601.50,487.73 L602.00,488.52 L602.50,489.16 L603.00,489.62 L603.50,489.90 L604.00,490.00 M614.00,474.50 L614.50,474.60 L615.00,474.88 L615.50,475.34 L616.00,475.98 L616.50,476.77 L617.00,477.69 L617.50,478.73 L618.00,479.86 L618.50,481.04 L619.00,482.25 L619.50,483.46 L620.00,484.64 L620.50,485.77 L621.00,486.81 L621.50,487.73 L622.00,488.52 L622.50,489.16 L623.00,489.62 L623.50,489.90 L624.00,490.00 M634.00,474.50 L634.50,474.60 L635.00,474.88 L635.50,475.34 L636.00,475.98 L636.50,476.77 L637.00,477.69 L637.50,478.73 L638.00,479.86 L638.50,481.04 L639.00,482.25 L639.50,483.46 L640.00,484.64 L640.50,485.77 L641.00,486.81 L641.50,487.73 L642.00,488.52 L642.50,489.16 L643.00,489.62 L643.50,489.90 L644.00,490.00 M654.00,474.50 L654.50,474.60 L655.00,474.88 L655.50,475.34 L656.00,475.98 L656.50,476.77 L657.00,477.69 L657.50,478.73 L658.00,479.86 L658.50,481.04 L659.00,482.25 L659.50,483.46 L660.00,484.64 L660.50,485.77 L661.00,486.81 L661.50,487.73 L662.00,488.52 L662.50,489.16 L663.00,489.62 L663.50,489.90 L664.00,490.00" stroke="#3f6f96" stroke-width="2.0" fill="none" stroke-linecap="round"/>
<text x="546" y="503" font-size="8.5" fill="#7d8a4a" font-weight="bold" font-style="normal" font-family="Liberation Sans" textLength="34" lengthAdjust="spacingAndGlyphs" >Promoter</text>
<text x="610" y="503" font-size="8.5" fill="#4a6d9a" font-weight="bold" font-style="normal" font-family="Liberation Sans" textLength="36" lengthAdjust="spacingAndGlyphs" >Sirt1 Gene</text>
<rect x="549" y="457" width="16.5" height="8.5" fill="#a9c07a" rx="0" />
<rect x="566" y="457" width="16.5" height="8.5" fill="#a9c07a" rx="0" />
<rect x="552" y="465" width="27" height="6" fill="#5f7a2a" rx="0" />
<path d="M559,471 L572,471 L565.5,477 Z" stroke="none" stroke-width="1" fill="#5f7a2a" />
<path d="M596.5,472 L596.5,461 L607,461" stroke="#111" stroke-width="1.8" fill="none" />
<path d="M606,457 L614,461 L606,465 Z" stroke="none" stroke-width="1" fill="#111" />
<line x1="601" y1="505" x2="601" y2="520" stroke="#111" stroke-width="2.2" />
<path d="M596.8,519.0 L605.2,519.0 L601,526 Z" stroke="none" stroke-width="1" fill="#111" />
<text x="549" y="542" font-size="9" fill="#222" font-weight="bold" font-style="normal" font-family="Liberation Sans" textLength="110" lengthAdjust="spacingAndGlyphs" >Transcription and translation</text>
<line x1="601" y1="546" x2="601" y2="561" stroke="#111" stroke-width="2.2" />
<path d="M596.8,560.0 L605.2,560.0 L601,567 Z" stroke="none" stroke-width="1" fill="#111" />
<g transform="translate(562.5,578) rotate(-24)">
<rect x="-20.0" y="-12.0" width="40" height="24" rx="3" fill="url(#tg)"/>
<text x="0" y="3.6" text-anchor="middle" font-size="10" font-family="Liberation Sans" font-weight="bold" fill="#15283a" textLength="20.0" lengthAdjust="spacingAndGlyphs">Sirt1</text>
</g>
<g transform="translate(640,578) rotate(24)">
<rect x="-20.0" y="-12.0" width="40" height="24" rx="3" fill="url(#tg)"/>
<text x="0" y="3.6" text-anchor="middle" font-size="10" font-family="Liberation Sans" font-weight="bold" fill="#15283a" textLength="20.0" lengthAdjust="spacingAndGlyphs">Sirt1</text>
</g>
<g transform="translate(601,602.5) rotate(0)">
<rect x="-20.5" y="-12.0" width="41" height="24" rx="3" fill="url(#tg)"/>
<text x="0" y="3.6" text-anchor="middle" font-size="10" font-family="Liberation Sans" font-weight="bold" fill="#15283a" textLength="20.5" lengthAdjust="spacingAndGlyphs">Sirt1</text>
</g>
<g transform="translate(562.5,626.7) rotate(24)">
<rect x="-20.0" y="-12.0" width="40" height="24" rx="3" fill="url(#tg)"/>
<text x="0" y="3.6" text-anchor="middle" font-size="10" font-family="Liberation Sans" font-weight="bold" fill="#15283a" textLength="20.0" lengthAdjust="spacingAndGlyphs">Sirt1</text>
</g>
<g transform="translate(640,626.7) rotate(-24)">
<rect x="-20.0" y="-12.0" width="40" height="24" rx="3" fill="url(#tg)"/>
<text x="0" y="3.6" text-anchor="middle" font-size="10" font-family="Liberation Sans" font-weight="bold" fill="#15283a" textLength="20.0" lengthAdjust="spacingAndGlyphs">Sirt1</text>
</g>
<path d="M712.00,490.00 L712.50,489.90 L713.00,489.62 L713.50,489.16 L714.00,488.52 L714.50,487.73 L715.00,486.81 L715.50,485.77 L716.00,484.64 L716.50,483.46 L717.00,482.25 L717.50,481.04 L718.00,479.86 L718.50,478.73 L719.00,477.69 L719.50,476.77 L720.00,475.98 L720.50,475.34 L721.00,474.88 L721.50,474.60 L722.00,474.50 M732.00,490.00 L732.50,489.90 L733.00,489.62 L733.50,489.16 L734.00,488.52 L734.50,487.73 L735.00,486.81 L735.50,485.77 L736.00,484.64 L736.50,483.46 L737.00,482.25 L737.50,481.04 L738.00,479.86 L738.50,478.73 L739.00,477.69 L739.50,476.77 L740.00,475.98 L740.50,475.34 L741.00,474.88 L741.50,474.60 L742.00,474.50 M752.00,490.00 L752.50,489.90 L753.00,489.62 L753.50,489.16 L754.00,488.52 L754.50,487.73 L755.00,486.81 L755.50,485.77 L756.00,484.64 L756.50,483.46 L757.00,482.25 L757.50,481.04 L758.00,479.86 L758.50,478.73 L759.00,477.69 L759.50,476.77 L760.00,475.98 L760.50,475.34 L761.00,474.88 L761.50,474.60 L762.00,474.50" stroke="#b3c78e" stroke-width="1.4" fill="none" stroke-linecap="round"/>
<path d="M722.00,474.50 L722.50,474.60 L723.00,474.88 L723.50,475.34 L724.00,475.98 L724.50,476.77 L725.00,477.69 L725.50,478.73 L726.00,479.86 L726.50,481.04 L727.00,482.25 L727.50,483.46 L728.00,484.64 L728.50,485.77 L729.00,486.81 L729.50,487.73 L730.00,488.52 L730.50,489.16 L731.00,489.62 L731.50,489.90 L732.00,490.00 M742.00,474.50 L742.50,474.60 L743.00,474.88 L743.50,475.34 L744.00,475.98 L744.50,476.77 L745.00,477.69 L745.50,478.73 L746.00,479.86 L746.50,481.04 L747.00,482.25 L747.50,483.46 L748.00,484.64 L748.50,485.77 L749.00,486.81 L749.50,487.73 L750.00,488.52 L750.50,489.16 L751.00,489.62 L751.50,489.90 L752.00,490.00 M762.00,474.50 L762.50,474.60 L763.00,474.88 L763.50,475.34 L764.00,475.98 L764.50,476.77 L765.00,477.69" stroke="#6f8a3a" stroke-width="2.0" fill="none" stroke-linecap="round"/>
<path d="M772.00,490.00 L772.50,489.90 L773.00,489.62 L773.50,489.16 L774.00,488.52 L774.50,487.73 L775.00,486.81 L775.50,485.77 L776.00,484.64 L776.50,483.46 L777.00,482.25 L777.50,481.04 L778.00,479.86 L778.50,478.73 L779.00,477.69 L779.50,476.77 L780.00,475.98 L780.50,475.34 L781.00,474.88 L781.50,474.60 L782.00,474.50 M792.00,490.00 L792.50,489.90 L793.00,489.62 L793.50,489.16 L794.00,488.52 L794.50,487.73 L795.00,486.81 L795.50,485.77 L796.00,484.64 L796.50,483.46 L797.00,482.25 L797.50,481.04 L798.00,479.86 L798.50,478.73 L799.00,477.69 L799.50,476.77 L800.00,475.98 L800.50,475.34 L801.00,474.88 L801.50,474.60 L802.00,474.50 M812.00,490.00 L812.50,489.90 L813.00,489.62 L813.50,489.16 L814.00,488.52 L814.50,487.73 L815.00,486.81 L815.50,485.77 L816.00,484.64 L816.50,483.46 L817.00,482.25 L817.50,481.04 L818.00,479.86 L818.50,478.73 L819.00,477.69 L819.50,476.77 L820.00,475.98 L820.50,475.34 L821.00,474.88 L821.50,474.60 L822.00,474.50 M832.00,490.00 L832.50,489.90 L833.00,489.62 L833.50,489.16 L834.00,488.52 L834.50,487.73 L835.00,486.81 L835.50,485.77 L836.00,484.64 L836.50,483.46 L837.00,482.25 L837.50,481.04 L838.00,479.86" stroke="#a6cadc" stroke-width="1.4" fill="none" stroke-linecap="round"/>
<path d="M765.00,477.69 L765.50,478.73 L766.00,479.86 L766.50,481.04 L767.00,482.25 L767.50,483.46 L768.00,484.64 L768.50,485.77 L769.00,486.81 L769.50,487.73 L770.00,488.52 L770.50,489.16 L771.00,489.62 L771.50,489.90 L772.00,490.00 M782.00,474.50 L782.50,474.60 L783.00,474.88 L783.50,475.34 L784.00,475.98 L784.50,476.77 L785.00,477.69 L785.50,478.73 L786.00,479.86 L786.50,481.04 L787.00,482.25 L787.50,483.46 L788.00,484.64 L788.50,485.77 L789.00,486.81 L789.50,487.73 L790.00,488.52 L790.50,489.16 L791.00,489.62 L791.50,489.90 L792.00,490.00 M802.00,474.50 L802.50,474.60 L803.00,474.88 L803.50,475.34 L804.00,475.98 L804.50,476.77 L805.00,477.69 L805.50,478.73 L806.00,479.86 L806.50,481.04 L807.00,482.25 L807.50,483.46 L808.00,484.64 L808.50,485.77 L809.00,486.81 L809.50,487.73 L810.00,488.52 L810.50,489.16 L811.00,489.62 L811.50,489.90 L812.00,490.00 M822.00,474.50 L822.50,474.60 L823.00,474.88 L823.50,475.34 L824.00,475.98 L824.50,476.77 L825.00,477.69 L825.50,478.73 L826.00,479.86 L826.50,481.04 L827.00,482.25 L827.50,483.46 L828.00,484.64 L828.50,485.77 L829.00,486.81 L829.50,487.73 L830.00,488.52 L830.50,489.16 L831.00,489.62 L831.50,489.90 L832.00,490.00" stroke="#3f6f96" stroke-width="2.0" fill="none" stroke-linecap="round"/>
<path d="M718.00,490.00 L718.50,489.90 L719.00,489.62 L719.50,489.16 L720.00,488.52 L720.50,487.73 L721.00,486.81 L721.50,485.77 L722.00,484.64 L722.50,483.46 L723.00,482.25 L723.50,481.04 L724.00,479.86 L724.50,478.73 L725.00,477.69 L725.50,476.77 L726.00,475.98 L726.50,475.34 L727.00,474.88 L727.50,474.60 L728.00,474.50 M738.00,490.00 L738.50,489.90 L739.00,489.62 L739.50,489.16 L740.00,488.52 L740.50,487.73 L741.00,486.81 L741.50,485.77 L742.00,484.64 L742.50,483.46 L743.00,482.25 L743.50,481.04 L744.00,479.86 L744.50,478.73 L745.00,477.69 L745.50,476.77 L746.00,475.98 L746.50,475.34 L747.00,474.88 L747.50,474.60 L748.00,474.50 M758.00,490.00 L758.50,489.90 L759.00,489.62 L759.50,489.16 L760.00,488.52 L760.50,487.73 L761.00,486.81 L761.50,485.77 L762.00,484.64 L762.50,483.46 L763.00,482.25 L763.50,481.04 L764.00,479.86 L764.50,478.73 L765.00,477.69" stroke="#b3c78e" stroke-width="1.4" fill="none" stroke-linecap="round"/>
<path d="M712.00,479.86 L712.50,481.04 L713.00,482.25 L713.50,483.46 L714.00,484.64 L714.50,485.77 L715.00,486.81 L715.50,487.73 L716.00,488.52 L716.50,489.16 L717.00,489.62 L717.50,489.90 L718.00,490.00 M728.00,474.50 L728.50,474.60 L729.00,474.88 L729.50,475.34 L730.00,475.98 L730.50,476.77 L731.00,477.69 L731.50,478.73 L732.00,479.86 L732.50,481.04 L733.00,482.25 L733.50,483.46 L734.00,484.64 L734.50,485.77 L735.00,486.81 L735.50,487.73 L736.00,488.52 L736.50,489.16 L737.00,489.62 L737.50,489.90 L738.00,490.00 M748.00,474.50 L748.50,474.60 L749.00,474.88 L749.50,475.34 L750.00,475.98 L750.50,476.77 L751.00,477.69 L751.50,478.73 L752.00,479.86 L752.50,481.04 L753.00,482.25 L753.50,483.46 L754.00,484.64 L754.50,485.77 L755.00,486.81 L755.50,487.73 L756.00,488.52 L756.50,489.16 L757.00,489.62 L757.50,489.90 L758.00,490.00" stroke="#6f8a3a" stroke-width="2.0" fill="none" stroke-linecap="round"/>
<path d="M765.00,477.69 L765.50,476.77 L766.00,475.98 L766.50,475.34 L767.00,474.88 L767.50,474.60 L768.00,474.50 M778.00,490.00 L778.50,489.90 L779.00,489.62 L779.50,489.16 L780.00,488.52 L780.50,487.73 L781.00,486.81 L781.50,485.77 L782.00,484.64 L782.50,483.46 L783.00,482.25 L783.50,481.04 L784.00,479.86 L784.50,478.73 L785.00,477.69 L785.50,476.77 L786.00,475.98 L786.50,475.34 L787.00,474.88 L787.50,474.60 L788.00,474.50 M798.00,490.00 L798.50,489.90 L799.00,489.62 L799.50,489.16 L800.00,488.52 L800.50,487.73 L801.00,486.81 L801.50,485.77 L802.00,484.64 L802.50,483.46 L803.00,482.25 L803.50,481.04 L804.00,479.86 L804.50,478.73 L805.00,477.69 L805.50,476.77 L806.00,475.98 L806.50,475.34 L807.00,474.88 L807.50,474.60 L808.00,474.50 M818.00,490.00 L818.50,489.90 L819.00,489.62 L819.50,489.16 L820.00,488.52 L820.50,487.73 L821.00,486.81 L821.50,485.77 L822.00,484.64 L822.50,483.46 L823.00,482.25 L823.50,481.04 L824.00,479.86 L824.50,478.73 L825.00,477.69 L825.50,476.77 L826.00,475.98 L826.50,475.34 L827.00,474.88 L827.50,474.60 L828.00,474.50" stroke="#a6cadc" stroke-width="1.4" fill="none" stroke-linecap="round"/>
<path d="M768.00,474.50 L768.50,474.60 L769.00,474.88 L769.50,475.34 L770.00,475.98 L770.50,476.77 L771.00,477.69 L771.50,478.73 L772.00,479.86 L772.50,481.04 L773.00,482.25 L773.50,483.46 L774.00,484.64 L774.50,485.77 L775.00,486.81 L775.50,487.73 L776.00,488.52 L776.50,489.16 L777.00,489.62 L777.50,489.90 L778.00,490.00 M788.00,474.50 L788.50,474.60 L789.00,474.88 L789.50,475.34 L790.00,475.98 L790.50,476.77 L791.00,477.69 L791.50,478.73 L792.00,479.86 L792.50,481.04 L793.00,482.25 L793.50,483.46 L794.00,484.64 L794.50,485.77 L795.00,486.81 L795.50,487.73 L796.00,488.52 L796.50,489.16 L797.00,489.62 L797.50,489.90 L798.00,490.00 M808.00,474.50 L808.50,474.60 L809.00,474.88 L809.50,475.34 L810.00,475.98 L810.50,476.77 L811.00,477.69 L811.50,478.73 L812.00,479.86 L812.50,481.04 L813.00,482.25 L813.50,483.46 L814.00,484.64 L814.50,485.77 L815.00,486.81 L815.50,487.73 L816.00,488.52 L816.50,489.16 L817.00,489.62 L817.50,489.90 L818.00,490.00 M828.00,474.50 L828.50,474.60 L829.00,474.88 L829.50,475.34 L830.00,475.98 L830.50,476.77 L831.00,477.69 L831.50,478.73 L832.00,479.86 L832.50,481.04 L833.00,482.25 L833.50,483.46 L834.00,484.64 L834.50,485.77 L835.00,486.81 L835.50,487.73 L836.00,488.52 L836.50,489.16 L837.00,489.62 L837.50,489.90 L838.00,490.00" stroke="#3f6f96" stroke-width="2.0" fill="none" stroke-linecap="round"/>
<text x="720" y="503" font-size="8.5" fill="#7d8a4a" font-weight="bold" font-style="normal" font-family="Liberation Sans" textLength="34" lengthAdjust="spacingAndGlyphs" >Promoter</text>
<text x="784" y="503" font-size="8.5" fill="#4a6d9a" font-weight="bold" font-style="normal" font-family="Liberation Sans" textLength="36" lengthAdjust="spacingAndGlyphs" >Sirt1 Gene</text>
<ellipse cx="727.5" cy="464" rx="9.5" ry="6" fill="#d9834f"/>
<ellipse cx="751.5" cy="464" rx="9.5" ry="6" fill="#d9834f"/>
<rect x="727" y="465.5" width="25" height="6" fill="#9b1018" rx="0" />
<path d="M733,471 L746,471 L739.5,476.5 Z" stroke="none" stroke-width="1" fill="#9b1018" />
<path d="M769,471 L769,462.5 L790,462.5 M790,459 L790,466" stroke="#222" stroke-width="1.6" fill="none" />
<line x1="774.5" y1="505" x2="774.5" y2="527" stroke="#222" stroke-width="1.5" stroke-dasharray="3,2"/>
<path d="M771.5,526.0 L777.5,526.0 L774.5,531 Z" stroke="none" stroke-width="1" fill="#222" />
<text x="722" y="542" font-size="9" fill="#9a9a9a" font-weight="normal" font-style="normal" font-family="Liberation Sans" textLength="108" lengthAdjust="spacingAndGlyphs" >Transcription and translation</text>
<line x1="774.5" y1="546" x2="774.5" y2="570" stroke="#222" stroke-width="1.5" stroke-dasharray="3,2"/>
<path d="M771.5,569.0 L777.5,569.0 L774.5,574 Z" stroke="none" stroke-width="1" fill="#222" />
<g transform="translate(773.7,590.8) rotate(0)">
<rect x="-20.5" y="-12.0" width="41" height="24" rx="3" fill="url(#tg)"/>
<text x="0" y="3.6" text-anchor="middle" font-size="10" font-family="Liberation Sans" font-weight="bold" fill="#15283a" textLength="20.5" lengthAdjust="spacingAndGlyphs">Sirt1</text>
</g>
<text x="374" y="669" font-size="20" fill="#b31c30" font-weight="normal" font-style="normal" font-family="Liberation Sans" textLength="16" lengthAdjust="spacingAndGlyphs"  fill-opacity="0.85">1:</text>
<text x="397" y="677.5" font-size="12.5" fill="#4a4a4a" font-weight="normal" font-style="italic" font-family="Liberation Sans" textLength="35" lengthAdjust="spacingAndGlyphs" >Basal</text>
<text x="380" y="692" font-size="12.5" fill="#4a4a4a" font-weight="normal" font-style="italic" font-family="Liberation Sans" textLength="68" lengthAdjust="spacingAndGlyphs" >Expression</text>
<text x="556" y="669" font-size="17" fill="#b31c30" font-weight="normal" font-style="normal" font-family="Liberation Sans" textLength="13" lengthAdjust="spacingAndGlyphs"  fill-opacity="0.85">2:</text>
<text x="572.5" y="677.5" font-size="12.5" fill="#4a4a4a" font-weight="normal" font-style="italic" font-family="Liberation Sans" textLength="61" lengthAdjust="spacingAndGlyphs" >Increased</text>
<text x="567.5" y="691" font-size="12.5" fill="#4a4a4a" font-weight="normal" font-style="italic" font-family="Liberation Sans" textLength="70" lengthAdjust="spacingAndGlyphs" >Expression</text>
<text x="739" y="667" font-size="17" fill="#b31c30" font-weight="normal" font-style="normal" font-family="Liberation Sans" textLength="12" lengthAdjust="spacingAndGlyphs"  fill-opacity="0.85">3.</text>
<text x="750" y="675" font-size="12.5" fill="#4a4a4a" font-weight="normal" font-style="italic" font-family="Liberation Sans" textLength="67.5" lengthAdjust="spacingAndGlyphs" >Decreased</text>
<text x="750" y="688.5" font-size="12.5" fill="#4a4a4a" font-weight="normal" font-style="italic" font-family="Liberation Sans" textLength="68" lengthAdjust="spacingAndGlyphs" >Expression</text>
<text x="395" y="724" font-size="14" fill="#6cd47a" font-weight="normal" font-style="normal" font-family="Liberation Sans" textLength="17" lengthAdjust="spacingAndGlyphs"  fill-opacity="0.85">low</text>
<text x="222" y="672" font-size="26" fill="#b31c30" font-weight="normal" font-style="normal" font-family="Liberation Sans" textLength="90" lengthAdjust="spacingAndGlyphs"  fill-opacity="0.85">Types of</text>
<text x="211" y="708" font-size="25" fill="#b31c30" font-weight="normal" font-style="normal" font-family="Liberation Sans" textLength="149" lengthAdjust="spacingAndGlyphs"  fill-opacity="0.85">gene expression:</text>
<text x="591" y="850" font-size="20" fill="#2f7fe6" font-weight="normal" font-style="normal" font-family="Liberation Sans" textLength="156" lengthAdjust="spacingAndGlyphs"  fill-opacity="0.85">does it breakdown</text>
<text x="645" y="870" font-size="15" fill="#2f7fe6" font-weight="normal" font-style="normal" font-family="Liberation Sans" textLength="43" lengthAdjust="spacingAndGlyphs"  fill-opacity="0.85">fast?</text>
<text x="727" y="897" font-size="27" fill="#2f7fe6" font-weight="normal" font-style="normal" font-family="Liberation Sans" textLength="165" lengthAdjust="spacingAndGlyphs"  fill-opacity="0.85">(breakdown)</text>
<rect x="616" y="883" width="87" height="20" fill="#f2f264" rx="3" />
<text x="266" y="900" font-size="26" font-family="Liberation Sans" font-style="italic" stroke="#3d4373" stroke-width="0.9" fill="#3d4373" textLength="427" lengthAdjust="spacingAndGlyphs">Regulation at the level of mRNA s<tspan fill="#b9b83c" stroke="#b9b83c">tability</tspan></text>
<rect x="247" y="909" width="507" height="4" fill="#c0000b" rx="0" />
<text x="24" y="954" font-size="16.5" fill="#0f9a9c" font-weight="normal" font-style="normal" font-family="Liberation Sans" textLength="197" lengthAdjust="spacingAndGlyphs"  fill-opacity="0.85">Regulation of mRNA stability:</text>
<path d="M25,961 Q120,958 221,959" stroke="#0f9a9c" stroke-width="2.2" fill="none" />
<path d="M27,965 Q120,961 221,963" stroke="#0f9a9c" stroke-width="1.6" fill="none" />
<text x="37" y="990" font-size="14" fill="#0f9a9c" font-weight="normal" font-style="normal" font-family="Liberation Sans" textLength="234" lengthAdjust="spacingAndGlyphs"  fill-opacity="0.85">Protein factors which are able to slow</text>
<text x="45.5" y="1016" font-size="14" fill="#0f9a9c" font-weight="normal" font-style="normal" font-family="Liberation Sans" textLength="182" lengthAdjust="spacingAndGlyphs"  fill-opacity="0.85">down or speed up the rate of</text>
<text x="48" y="1042" font-size="14" fill="#0f9a9c" font-weight="normal" font-style="normal" font-family="Liberation Sans" textLength="147" lengthAdjust="spacingAndGlyphs"  fill-opacity="0.85">breakdown of mRNA.</text>
<path d="M338.00,1036.50 L338.50,1036.42 L339.00,1036.18 L339.50,1035.78 L340.00,1035.23 L340.50,1034.54 L341.00,1033.73 L341.50,1032.81 L342.00,1031.80 L342.50,1030.72 L343.00,1029.58 L343.50,1028.41 L344.00,1027.24 L344.50,1026.08 L345.00,1024.95 L345.50,1023.89 L346.00,1022.90 L346.50,1022.01 L347.00,1021.24 L347.50,1020.59 L348.00,1020.09 L348.50,1019.73 L349.00,1019.54 L349.35,1019.50 M360.70,1036.50 L361.20,1036.42 L361.70,1036.18 L362.20,1035.78 L362.70,1035.23 L363.20,1034.54 L363.70,1033.73 L364.20,1032.81 L364.70,1031.80 L365.20,1030.72 L365.70,1029.58 L366.20,1028.41 L366.70,1027.24 L367.20,1026.08 L367.70,1024.95 L368.20,1023.89 L368.70,1022.90 L369.20,1022.01 L369.70,1021.24 L370.20,1020.59 L370.70,1020.09 L371.20,1019.73 L371.70,1019.54 L372.05,1019.50 M383.40,1036.50 L383.90,1036.42 L384.40,1036.18 L384.90,1035.78 L385.40,1035.23 L385.90,1034.54 L386.40,1033.73 L386.90,1032.81 L387.40,1031.80 L387.90,1030.72 L388.40,1029.58 L388.90,1028.41 L389.40,1027.24 L389.90,1026.08 L390.40,1024.95 L390.90,1023.89 L391.40,1022.90 L391.90,1022.01 L392.40,1021.24 L392.90,1020.59 L393.40,1020.09 L393.90,1019.73 L394.40,1019.54 L394.75,1019.50 M406.10,1036.50 L406.60,1036.42 L407.10,1036.18 L407.60,1035.78 L408.10,1035.23 L408.60,1034.54 L409.10,1033.73 L409.60,1032.81 L410.10,1031.80 L410.60,1030.72 L411.10,1029.58 L411.60,1028.41 L412.10,1027.24 L412.60,1026.08 L413.10,1024.95 L413.60,1023.89 L414.10,1022.90 L414.60,1022.01 L415.10,1021.24 L415.60,1020.59 L416.10,1020.09 L416.60,1019.73 L417.10,1019.54 L417.45,1019.50 M428.80,1036.50 L429.30,1036.42 L429.80,1036.18 L430.30,1035.78 L430.80,1035.23 L431.30,1034.54 L431.80,1033.73 L432.30,1032.81 L432.80,1031.80 L433.30,1030.72 L433.80,1029.58 L434.30,1028.41 L434.80,1027.24 L435.30,1026.08 L435.80,1024.95 L436.30,1023.89 L436.80,1022.90 L437.30,1022.01 L437.80,1021.24 L438.30,1020.59 L438.80,1020.09 L439.30,1019.73 L439.80,1019.54 L440.15,1019.50 M451.50,1036.50 L452.00,1036.42 L452.50,1036.18 L453.00,1035.78 L453.50,1035.23 L454.00,1034.54 L454.50,1033.73 L455.00,1032.81 L455.50,1031.80 L456.00,1030.72 L456.50,1029.58 L457.00,1028.41 L457.50,1027.24 L458.00,1026.08 L458.50,1024.95 L459.00,1023.89 L459.50,1022.90 L460.00,1022.01 L460.50,1021.24 L461.00,1020.59 L461.50,1020.09 L462.00,1019.73 L462.50,1019.54 L462.85,1019.50 M474.20,1036.50 L474.70,1036.42 L475.20,1036.18 L475.70,1035.78 L476.20,1035.23 L476.70,1034.54 L477.20,1033.73 L477.70,1032.81 L478.20,1031.80 L478.70,1030.72 L479.20,1029.58 L479.70,1028.41 L480.20,1027.24 L480.70,1026.08 L481.20,1024.95 L481.70,1023.89 L482.20,1022.90 L482.70,1022.01 L483.20,1021.24 L483.70,1020.59 L484.20,1020.09 L484.70,1019.73 L485.00,1019.60" stroke="#a8cade" stroke-width="1.6" fill="none" stroke-linecap="round"/>
<path d="M349.35,1019.50 L349.85,1019.58 L350.35,1019.82 L350.85,1020.22 L351.35,1020.77 L351.85,1021.46 L352.35,1022.27 L352.85,1023.19 L353.35,1024.20 L353.85,1025.28 L354.35,1026.42 L354.85,1027.59 L355.35,1028.76 L355.85,1029.92 L356.35,1031.05 L356.85,1032.11 L357.35,1033.10 L357.85,1033.99 L358.35,1034.76 L358.85,1035.41 L359.35,1035.91 L359.85,1036.27 L360.35,1036.46 L360.70,1036.50 M372.05,1019.50 L372.55,1019.58 L373.05,1019.82 L373.55,1020.22 L374.05,1020.77 L374.55,1021.46 L375.05,1022.27 L375.55,1023.19 L376.05,1024.20 L376.55,1025.28 L377.05,1026.42 L377.55,1027.59 L378.05,1028.76 L378.55,1029.92 L379.05,1031.05 L379.55,1032.11 L380.05,1033.10 L380.55,1033.99 L381.05,1034.76 L381.55,1035.41 L382.05,1035.91 L382.55,1036.27 L383.05,1036.46 L383.40,1036.50 M394.75,1019.50 L395.25,1019.58 L395.75,1019.82 L396.25,1020.22 L396.75,1020.77 L397.25,1021.46 L397.75,1022.27 L398.25,1023.19 L398.75,1024.20 L399.25,1025.28 L399.75,1026.42 L400.25,1027.59 L400.75,1028.76 L401.25,1029.92 L401.75,1031.05 L402.25,1032.11 L402.75,1033.10 L403.25,1033.99 L403.75,1034.76 L404.25,1035.41 L404.75,1035.91 L405.25,1036.27 L405.75,1036.46 L406.10,1036.50 M417.45,1019.50 L417.95,1019.58 L418.45,1019.82 L418.95,1020.22 L419.45,1020.77 L419.95,1021.46 L420.45,1022.27 L420.95,1023.19 L421.45,1024.20 L421.95,1025.28 L422.45,1026.42 L422.95,1027.59 L423.45,1028.76 L423.95,1029.92 L424.45,1031.05 L424.95,1032.11 L425.45,1033.10 L425.95,1033.99 L426.45,1034.76 L426.95,1035.41 L427.45,1035.91 L427.95,1036.27 L428.45,1036.46 L428.80,1036.50 M440.15,1019.50 L440.65,1019.58 L441.15,1019.82 L441.65,1020.22 L442.15,1020.77 L442.65,1021.46 L443.15,1022.27 L443.65,1023.19 L444.15,1024.20 L444.65,1025.28 L445.15,1026.42 L445.65,1027.59 L446.15,1028.76 L446.65,1029.92 L447.15,1031.05 L447.65,1032.11 L448.15,1033.10 L448.65,1033.99 L449.15,1034.76 L449.65,1035.41 L450.15,1035.91 L450.65,1036.27 L451.15,1036.46 L451.50,1036.50 M462.85,1019.50 L463.35,1019.58 L463.85,1019.82 L464.35,1020.22 L464.85,1020.77 L465.35,1021.46 L465.85,1022.27 L466.35,1023.19 L466.85,1024.20 L467.35,1025.28 L467.85,1026.42 L468.35,1027.59 L468.85,1028.76 L469.35,1029.92 L469.85,1031.05 L470.35,1032.11 L470.85,1033.10 L471.35,1033.99 L471.85,1034.76 L472.35,1035.41 L472.85,1035.91 L473.35,1036.27 L473.85,1036.46 L474.20,1036.50" stroke="#3a6890" stroke-width="2.2" fill="none" stroke-linecap="round"/>
<text x="389.5" y="1048" font-size="9" fill="#4a6d9a" font-weight="bold" font-style="normal" font-family="Liberation Sans" textLength="54" lengthAdjust="spacingAndGlyphs" >Sirt1 mRNA</text>
<path d="M338.00,1069.00 L338.50,1068.92 L339.00,1068.68 L339.50,1068.28 L340.00,1067.73 L340.50,1067.04 L341.00,1066.23 L341.50,1065.31 L342.00,1064.30 L342.50,1063.22 L343.00,1062.08 L343.50,1060.91 L344.00,1059.74 L344.50,1058.58 L345.00,1057.45 L345.50,1056.39 L346.00,1055.40 L346.50,1054.51 L347.00,1053.74 L347.50,1053.09 L348.00,1052.59 L348.50,1052.23 L349.00,1052.04 L349.35,1052.00 M360.70,1069.00 L361.20,1068.92 L361.70,1068.68 L362.20,1068.28 L362.70,1067.73 L363.20,1067.04 L363.70,1066.23 L364.20,1065.31 L364.70,1064.30 L365.20,1063.22 L365.70,1062.08 L366.20,1060.91 L366.70,1059.74 L367.20,1058.58 L367.70,1057.45 L368.20,1056.39 L368.70,1055.40 L369.20,1054.51 L369.70,1053.74 L370.20,1053.09 L370.70,1052.59 L371.20,1052.23 L371.70,1052.04 L372.05,1052.00 M383.40,1069.00 L383.90,1068.92 L384.40,1068.68 L384.90,1068.28 L385.40,1067.73 L385.90,1067.04 L386.40,1066.23 L386.90,1065.31 L387.40,1064.30 L387.90,1063.22 L388.40,1062.08 L388.90,1060.91 L389.40,1059.74 L389.90,1058.58 L390.40,1057.45 L390.90,1056.39 L391.40,1055.40 L391.90,1054.51 L392.40,1053.74 L392.90,1053.09 L393.40,1052.59 L393.90,1052.23 L394.40,1052.04 L394.75,1052.00 M406.10,1069.00 L406.60,1068.92 L407.10,1068.68 L407.60,1068.28 L408.10,1067.73 L408.60,1067.04 L409.10,1066.23 L409.60,1065.31 L410.10,1064.30 L410.60,1063.22 L411.10,1062.08 L411.60,1060.91 L412.10,1059.74 L412.60,1058.58 L413.10,1057.45 L413.60,1056.39 L414.10,1055.40 L414.60,1054.51 L415.10,1053.74 L415.60,1053.09 L416.10,1052.59 L416.60,1052.23 L417.10,1052.04 L417.45,1052.00 M428.80,1069.00 L429.30,1068.92 L429.80,1068.68 L430.30,1068.28 L430.80,1067.73 L431.30,1067.04 L431.80,1066.23 L432.30,1065.31 L432.80,1064.30 L433.30,1063.22 L433.80,1062.08 L434.30,1060.91 L434.80,1059.74 L435.30,1058.58 L435.80,1057.45 L436.30,1056.39 L436.80,1055.40 L437.30,1054.51 L437.80,1053.74 L438.30,1053.09 L438.80,1052.59 L439.30,1052.23 L439.80,1052.04 L440.15,1052.00 M451.50,1069.00 L452.00,1068.92 L452.50,1068.68 L453.00,1068.28 L453.50,1067.73 L454.00,1067.04 L454.50,1066.23 L455.00,1065.31 L455.50,1064.30 L456.00,1063.22 L456.50,1062.08 L457.00,1060.91 L457.50,1059.74 L458.00,1058.58 L458.50,1057.45 L459.00,1056.39 L459.50,1055.40 L460.00,1054.51 L460.50,1053.74 L461.00,1053.09 L461.50,1052.59 L462.00,1052.23 L462.50,1052.04 L462.85,1052.00 M474.20,1069.00 L474.70,1068.92 L475.20,1068.68 L475.70,1068.28 L476.20,1067.73 L476.70,1067.04 L477.20,1066.23 L477.70,1065.31 L478.20,1064.30 L478.70,1063.22 L479.20,1062.08 L479.70,1060.91 L480.20,1059.74 L480.70,1058.58 L481.20,1057.45 L481.70,1056.39 L482.20,1055.40 L482.70,1054.51 L483.20,1053.74 L483.70,1053.09 L484.20,1052.59 L484.70,1052.23 L485.00,1052.10" stroke="#a8cade" stroke-width="1.6" fill="none" stroke-linecap="round"/>
<path d="M349.35,1052.00 L349.85,1052.08 L350.35,1052.32 L350.85,1052.72 L351.35,1053.27 L351.85,1053.96 L352.35,1054.77 L352.85,1055.69 L353.35,1056.70 L353.85,1057.78 L354.35,1058.92 L354.85,1060.09 L355.35,1061.26 L355.85,1062.42 L356.35,1063.55 L356.85,1064.61 L357.35,1065.60 L357.85,1066.49 L358.35,1067.26 L358.85,1067.91 L359.35,1068.41 L359.85,1068.77 L360.35,1068.96 L360.70,1069.00 M372.05,1052.00 L372.55,1052.08 L373.05,1052.32 L373.55,1052.72 L374.05,1053.27 L374.55,1053.96 L375.05,1054.77 L375.55,1055.69 L376.05,1056.70 L376.55,1057.78 L377.05,1058.92 L377.55,1060.09 L378.05,1061.26 L378.55,1062.42 L379.05,1063.55 L379.55,1064.61 L380.05,1065.60 L380.55,1066.49 L381.05,1067.26 L381.55,1067.91 L382.05,1068.41 L382.55,1068.77 L383.05,1068.96 L383.40,1069.00 M394.75,1052.00 L395.25,1052.08 L395.75,1052.32 L396.25,1052.72 L396.75,1053.27 L397.25,1053.96 L397.75,1054.77 L398.25,1055.69 L398.75,1056.70 L399.25,1057.78 L399.75,1058.92 L400.25,1060.09 L400.75,1061.26 L401.25,1062.42 L401.75,1063.55 L402.25,1064.61 L402.75,1065.60 L403.25,1066.49 L403.75,1067.26 L404.25,1067.91 L404.75,1068.41 L405.25,1068.77 L405.75,1068.96 L406.10,1069.00 M417.45,1052.00 L417.95,1052.08 L418.45,1052.32 L418.95,1052.72 L419.45,1053.27 L419.95,1053.96 L420.45,1054.77 L420.95,1055.69 L421.45,1056.70 L421.95,1057.78 L422.45,1058.92 L422.95,1060.09 L423.45,1061.26 L423.95,1062.42 L424.45,1063.55 L424.95,1064.61 L425.45,1065.60 L425.95,1066.49 L426.45,1067.26 L426.95,1067.91 L427.45,1068.41 L427.95,1068.77 L428.45,1068.96 L428.80,1069.00 M440.15,1052.00 L440.65,1052.08 L441.15,1052.32 L441.65,1052.72 L442.15,1053.27 L442.65,1053.96 L443.15,1054.77 L443.65,1055.69 L444.15,1056.70 L444.65,1057.78 L445.15,1058.92 L445.65,1060.09 L446.15,1061.26 L446.65,1062.42 L447.15,1063.55 L447.65,1064.61 L448.15,1065.60 L448.65,1066.49 L449.15,1067.26 L449.65,1067.91 L450.15,1068.41 L450.65,1068.77 L451.15,1068.96 L451.50,1069.00 M462.85,1052.00 L463.35,1052.08 L463.85,1052.32 L464.35,1052.72 L464.85,1053.27 L465.35,1053.96 L465.85,1054.77 L466.35,1055.69 L466.85,1056.70 L467.35,1057.78 L467.85,1058.92 L468.35,1060.09 L468.85,1061.26 L469.35,1062.42 L469.85,1063.55 L470.35,1064.61 L470.85,1065.60 L471.35,1066.49 L471.85,1067.26 L472.35,1067.91 L472.85,1068.41 L473.35,1068.77 L473.85,1068.96 L474.20,1069.00" stroke="#3a6890" stroke-width="2.2" fill="none" stroke-linecap="round"/>
<line x1="411.5" y1="1077" x2="411.5" y2="1097.5" stroke="#111" stroke-width="1.8" />
<path d="M407.0,1096.5 L416.0,1096.5 L411.5,1104 Z" stroke="none" stroke-width="1" fill="#111" />
<text x="390" y="1115.5" font-size="9.5" fill="#222" font-weight="bold" font-style="normal" font-family="Liberation Sans" textLength="50.5" lengthAdjust="spacingAndGlyphs" >Translation</text>
<line x1="411.5" y1="1120" x2="411.5" y2="1140.5" stroke="#111" stroke-width="1.8" />
<path d="M407.0,1139.5 L416.0,1139.5 L411.5,1147 Z" stroke="none" stroke-width="1" fill="#111" />
<g transform="translate(368.2,1153.7) rotate(-22)">
<rect x="-22.5" y="-12.5" width="45" height="25" rx="3" fill="url(#tg)"/>
<text x="0" y="3.8" text-anchor="middle" font-size="10.5" font-family="Liberation Sans" font-weight="bold" fill="#15283a" textLength="22.5" lengthAdjust="spacingAndGlyphs">Sirt1</text>
</g>
<g transform="translate(455.4,1153.7) rotate(22)">
<rect x="-22.5" y="-12.5" width="45" height="25" rx="3" fill="url(#tg)"/>
<text x="0" y="3.8" text-anchor="middle" font-size="10.5" font-family="Liberation Sans" font-weight="bold" fill="#15283a" textLength="22.5" lengthAdjust="spacingAndGlyphs">Sirt1</text>
</g>
<g transform="translate(411.8,1179.2) rotate(0)">
<rect x="-23.0" y="-12.75" width="46" height="25.5" rx="3" fill="url(#tg)"/>
<text x="0" y="3.8" text-anchor="middle" font-size="10.5" font-family="Liberation Sans" font-weight="bold" fill="#15283a" textLength="23.0" lengthAdjust="spacingAndGlyphs">Sirt1</text>
</g>
<path d="M533.65,1007.60 L534.15,1007.52 L534.65,1007.30 L535.15,1006.92 L535.65,1006.41 L536.15,1005.77 L536.65,1005.01 L537.15,1004.15 L537.65,1003.21 L538.15,1002.19 L538.65,1001.13 L539.15,1000.03 L539.65,998.94 L540.15,997.85 L540.65,996.80 L541.15,995.80 L541.65,994.88 L542.15,994.05 L542.65,993.32 L543.15,992.72 L543.65,992.25 L544.15,991.92 L544.65,991.74 L545.00,991.70 M556.35,1007.60 L556.85,1007.52 L557.35,1007.30 L557.85,1006.92 L558.35,1006.41 L558.85,1005.77 L559.35,1005.01 L559.85,1004.15 L560.35,1003.21 L560.85,1002.19 L561.35,1001.13 L561.85,1000.03 L562.35,998.94 L562.85,997.85 L563.35,996.80 L563.85,995.80 L564.35,994.88 L564.85,994.05 L565.35,993.32 L565.85,992.72 L566.35,992.25 L566.85,991.92 L567.35,991.74 L567.70,991.70 M579.05,1007.60 L579.55,1007.52 L580.05,1007.30 L580.55,1006.92 L581.05,1006.41 L581.55,1005.77 L582.05,1005.01 L582.55,1004.15 L583.05,1003.21 L583.55,1002.19 L584.05,1001.13 L584.55,1000.03 L585.05,998.94 L585.55,997.85 L586.05,996.80 L586.55,995.80 L587.05,994.88 L587.55,994.05 L588.05,993.32 L588.55,992.72 L589.05,992.25 L589.55,991.92 L590.05,991.74 L590.40,991.70 M601.75,1007.60 L602.25,1007.52 L602.75,1007.30 L603.25,1006.92 L603.75,1006.41 L604.25,1005.77 L604.75,1005.01 L605.25,1004.15 L605.75,1003.21 L606.25,1002.19 L606.75,1001.13 L607.25,1000.03 L607.75,998.94 L608.25,997.85 L608.75,996.80 L609.25,995.80 L609.75,994.88 L610.25,994.05 L610.75,993.32 L611.25,992.72 L611.75,992.25 L612.25,991.92 L612.75,991.74 L613.10,991.70 M624.45,1007.60 L624.95,1007.52 L625.45,1007.30 L625.95,1006.92 L626.45,1006.41 L626.95,1005.77 L627.45,1005.01 L627.95,1004.15 L628.45,1003.21 L628.95,1002.19 L629.45,1001.13 L629.95,1000.03 L630.45,998.94 L630.95,997.85 L631.45,996.80 L631.95,995.80 L632.45,994.88 L632.95,994.05 L633.45,993.32 L633.95,992.72 L634.45,992.25 L634.95,991.92 L635.45,991.74 L635.80,991.70" stroke="#a8cade" stroke-width="1.6" fill="none" stroke-linecap="round"/>
<path d="M533.00,1007.47 L533.50,1007.59 L533.65,1007.60 M545.00,991.70 L545.50,991.78 L546.00,992.00 L546.50,992.38 L547.00,992.89 L547.50,993.53 L548.00,994.29 L548.50,995.15 L549.00,996.09 L549.50,997.11 L550.00,998.17 L550.50,999.27 L551.00,1000.36 L551.50,1001.45 L552.00,1002.50 L552.50,1003.50 L553.00,1004.42 L553.50,1005.25 L554.00,1005.98 L554.50,1006.58 L555.00,1007.05 L555.50,1007.38 L556.00,1007.56 L556.35,1007.60 M567.70,991.70 L568.20,991.78 L568.70,992.00 L569.20,992.38 L569.70,992.89 L570.20,993.53 L570.70,994.29 L571.20,995.15 L571.70,996.09 L572.20,997.11 L572.70,998.17 L573.20,999.27 L573.70,1000.36 L574.20,1001.45 L574.70,1002.50 L575.20,1003.50 L575.70,1004.42 L576.20,1005.25 L576.70,1005.98 L577.20,1006.58 L577.70,1007.05 L578.20,1007.38 L578.70,1007.56 L579.05,1007.60 M590.40,991.70 L590.90,991.78 L591.40,992.00 L591.90,992.38 L592.40,992.89 L592.90,993.53 L593.40,994.29 L593.90,995.15 L594.40,996.09 L594.90,997.11 L595.40,998.17 L595.90,999.27 L596.40,1000.36 L596.90,1001.45 L597.40,1002.50 L597.90,1003.50 L598.40,1004.42 L598.90,1005.25 L599.40,1005.98 L599.90,1006.58 L600.40,1007.05 L600.90,1007.38 L601.40,1007.56 L601.75,1007.60 M613.10,991.70 L613.60,991.78 L614.10,992.00 L614.60,992.38 L615.10,992.89 L615.60,993.53 L616.10,994.29 L616.60,995.15 L617.10,996.09 L617.60,997.11 L618.10,998.17 L618.60,999.27 L619.10,1000.36 L619.60,1001.45 L620.10,1002.50 L620.60,1003.50 L621.10,1004.42 L621.60,1005.25 L622.10,1005.98 L622.60,1006.58 L623.10,1007.05 L623.60,1007.38 L624.10,1007.56 L624.45,1007.60" stroke="#3a6890" stroke-width="2.2" fill="none" stroke-linecap="round"/>
<path d="M647.15,1007.60 L647.65,1007.52 L648.15,1007.30 L648.65,1006.92 L649.15,1006.41 L649.65,1005.77 L650.15,1005.01 L650.65,1004.15 L651.15,1003.21 L651.65,1002.19 L652.15,1001.13 L652.65,1000.03 L653.15,998.94 L653.65,997.85 L654.15,996.80 L654.65,995.80 L655.15,994.88 L655.65,994.05 L656.15,993.32 L656.65,992.72 L657.15,992.25 L657.65,991.92 L658.15,991.74 L658.50,991.70 M669.85,1007.60 L670.35,1007.52 L670.85,1007.30 L671.35,1006.92 L671.85,1006.41 L672.35,1005.77 L672.85,1005.01 L673.35,1004.15 L673.85,1003.21 L674.35,1002.19 L674.85,1001.13 L675.35,1000.03 L675.85,998.94 L676.35,997.85 L676.85,996.80 L677.35,995.80 L677.85,994.88 L678.35,994.05 L678.85,993.32 L679.35,992.72 L679.50,992.56" stroke="#a3c096" stroke-width="1.6" fill="none" stroke-linecap="round"/>
<path d="M635.80,991.70 L636.30,991.78 L636.80,992.00 L637.30,992.38 L637.80,992.89 L638.30,993.53 L638.80,994.29 L639.30,995.15 L639.80,996.09 L640.30,997.11 L640.80,998.17 L641.30,999.27 L641.80,1000.36 L642.30,1001.45 L642.80,1002.50 L643.30,1003.50 L643.80,1004.42 L644.30,1005.25 L644.80,1005.98 L645.30,1006.58 L645.80,1007.05 L646.30,1007.38 L646.80,1007.56 L647.15,1007.60 M658.50,991.70 L659.00,991.78 L659.50,992.00 L660.00,992.38 L660.50,992.89 L661.00,993.53 L661.50,994.29 L662.00,995.15 L662.50,996.09 L663.00,997.11 L663.50,998.17 L664.00,999.27 L664.50,1000.36 L665.00,1001.45 L665.50,1002.50 L666.00,1003.50 L666.50,1004.42 L667.00,1005.25 L667.50,1005.98 L668.00,1006.58 L668.50,1007.05 L669.00,1007.38 L669.50,1007.56 L669.85,1007.60" stroke="#3d6a2c" stroke-width="2.2" fill="none" stroke-linecap="round"/>
<path d="M574.00,1036.76 L574.50,1036.57 L575.00,1036.22 L575.50,1035.72 L576.00,1035.07 L576.50,1034.30 L577.00,1033.42 L577.50,1032.44 L578.00,1031.38 L578.50,1030.26 L579.00,1029.11 L579.50,1027.94 L580.00,1026.78 L580.50,1025.65 L581.00,1024.57 L581.50,1023.56 L582.00,1022.65 L582.50,1021.84 L583.00,1021.16 L583.50,1020.62 L584.00,1020.22 L584.50,1019.98 L585.00,1019.90 M596.35,1036.80 L596.85,1036.72 L597.35,1036.48 L597.85,1036.08 L598.35,1035.54 L598.85,1034.86 L599.35,1034.05 L599.85,1033.14 L600.35,1032.13 L600.85,1031.05 L601.35,1029.92 L601.85,1028.76 L602.35,1027.59 L602.85,1026.44 L603.35,1025.32 L603.85,1024.26 L604.35,1023.28 L604.85,1022.40 L605.35,1021.63 L605.85,1020.98 L606.35,1020.48 L606.85,1020.13 L607.35,1019.94 L607.70,1019.90 M619.05,1036.80 L619.55,1036.72 L620.05,1036.48 L620.55,1036.08 L621.05,1035.54 L621.55,1034.86 L622.05,1034.05 L622.55,1033.14 L623.05,1032.13 L623.55,1031.05 L624.05,1029.92 L624.55,1028.76 L625.05,1027.59 L625.55,1026.44 L626.05,1025.32 L626.55,1024.26 L627.05,1023.28 L627.55,1022.40 L628.05,1021.63 L628.55,1020.98 L629.05,1020.48 L629.55,1020.13 L630.05,1019.94 L630.40,1019.90 M641.75,1036.80 L642.25,1036.72 L642.75,1036.48 L643.25,1036.08 L643.75,1035.54 L644.25,1034.86 L644.75,1034.05 L645.25,1033.14 L645.75,1032.13 L646.25,1031.05 L646.75,1029.92 L647.25,1028.76 L647.75,1027.59 L648.25,1026.44 L648.75,1025.32 L649.25,1024.26 L649.75,1023.28 L650.25,1022.40 L650.75,1021.63 L651.25,1020.98 L651.75,1020.48 L652.25,1020.13 L652.75,1019.94 L653.10,1019.90 M664.45,1036.80 L664.95,1036.72 L665.45,1036.48 L665.95,1036.08 L666.45,1035.54 L666.95,1034.86 L667.45,1034.05 L667.95,1033.14 L668.45,1032.13 L668.95,1031.05 L669.45,1029.92 L669.95,1028.76 L670.45,1027.59 L670.95,1026.44 L671.45,1025.32 L671.95,1024.26 L672.45,1023.28 L672.95,1022.40 L673.45,1021.63 L673.95,1020.98 L674.45,1020.48 L674.95,1020.13 L675.45,1019.94 L675.80,1019.90" stroke="#a8cade" stroke-width="1.6" fill="none" stroke-linecap="round"/>
<path d="M585.00,1019.90 L585.50,1019.98 L586.00,1020.22 L586.50,1020.62 L587.00,1021.16 L587.50,1021.84 L588.00,1022.65 L588.50,1023.56 L589.00,1024.57 L589.50,1025.65 L590.00,1026.78 L590.50,1027.94 L591.00,1029.11 L591.50,1030.26 L592.00,1031.38 L592.50,1032.44 L593.00,1033.42 L593.50,1034.30 L594.00,1035.07 L594.50,1035.72 L595.00,1036.22 L595.50,1036.57 L596.00,1036.76 L596.35,1036.80 M607.70,1019.90 L608.20,1019.98 L608.70,1020.22 L609.20,1020.62 L609.70,1021.16 L610.20,1021.84 L610.70,1022.65 L611.20,1023.56 L611.70,1024.57 L612.20,1025.65 L612.70,1026.78 L613.20,1027.94 L613.70,1029.11 L614.20,1030.26 L614.70,1031.38 L615.20,1032.44 L615.70,1033.42 L616.20,1034.30 L616.70,1035.07 L617.20,1035.72 L617.70,1036.22 L618.20,1036.57 L618.70,1036.76 L619.05,1036.80 M630.40,1019.90 L630.90,1019.98 L631.40,1020.22 L631.90,1020.62 L632.40,1021.16 L632.90,1021.84 L633.40,1022.65 L633.90,1023.56 L634.40,1024.57 L634.90,1025.65 L635.40,1026.78 L635.90,1027.94 L636.40,1029.11 L636.90,1030.26 L637.40,1031.38 L637.90,1032.44 L638.40,1033.42 L638.90,1034.30 L639.40,1035.07 L639.90,1035.72 L640.40,1036.22 L640.90,1036.57 L641.40,1036.76 L641.75,1036.80 M653.10,1019.90 L653.60,1019.98 L654.10,1020.22 L654.60,1020.62 L655.10,1021.16 L655.60,1021.84 L656.10,1022.65 L656.60,1023.56 L657.10,1024.57 L657.60,1025.65 L658.10,1026.78 L658.60,1027.94 L659.10,1029.11 L659.60,1030.26 L660.10,1031.38 L660.60,1032.44 L661.10,1033.42 L661.60,1034.30 L662.10,1035.07 L662.60,1035.72 L663.10,1036.22 L663.60,1036.57 L664.10,1036.76 L664.45,1036.80" stroke="#3a6890" stroke-width="2.2" fill="none" stroke-linecap="round"/>
<path d="M687.15,1036.80 L687.65,1036.72 L688.15,1036.48 L688.65,1036.08 L689.15,1035.54 L689.65,1034.86 L690.15,1034.05 L690.65,1033.14 L691.15,1032.13 L691.65,1031.05 L692.15,1029.92 L692.65,1028.76 L693.15,1027.59 L693.65,1026.44 L694.15,1025.32 L694.65,1024.26 L695.15,1023.28 L695.65,1022.40 L696.15,1021.63 L696.65,1020.98 L697.15,1020.48 L697.65,1020.13 L698.15,1019.94 L698.50,1019.90 M709.85,1036.80 L710.35,1036.72 L710.85,1036.48 L711.35,1036.08 L711.85,1035.54 L712.35,1034.86 L712.85,1034.05 L713.35,1033.14 L713.85,1032.13 L714.35,1031.05 L714.85,1029.92 L715.35,1028.76 L715.85,1027.59 L716.35,1026.44 L716.85,1025.32 L717.35,1024.26 L717.85,1023.28 L718.35,1022.40 L718.85,1021.63 L719.35,1020.98 L719.85,1020.48 L720.30,1020.16" stroke="#a3c096" stroke-width="1.6" fill="none" stroke-linecap="round"/>
<path d="M675.80,1019.90 L676.30,1019.98 L676.80,1020.22 L677.30,1020.62 L677.80,1021.16 L678.30,1021.84 L678.80,1022.65 L679.30,1023.56 L679.80,1024.57 L680.30,1025.65 L680.80,1026.78 L681.30,1027.94 L681.80,1029.11 L682.30,1030.26 L682.80,1031.38 L683.30,1032.44 L683.80,1033.42 L684.30,1034.30 L684.80,1035.07 L685.30,1035.72 L685.80,1036.22 L686.30,1036.57 L686.80,1036.76 L687.15,1036.80 M698.50,1019.90 L699.00,1019.98 L699.50,1020.22 L700.00,1020.62 L700.50,1021.16 L701.00,1021.84 L701.50,1022.65 L702.00,1023.56 L702.50,1024.57 L703.00,1025.65 L703.50,1026.78 L704.00,1027.94 L704.50,1029.11 L705.00,1030.26 L705.50,1031.38 L706.00,1032.44 L706.50,1033.42 L707.00,1034.30 L707.50,1035.07 L708.00,1035.72 L708.50,1036.22 L709.00,1036.57 L709.50,1036.76 L709.85,1036.80" stroke="#3d6a2c" stroke-width="2.2" fill="none" stroke-linecap="round"/>
<path d="M533.65,1068.30 L534.15,1068.22 L534.65,1068.00 L535.15,1067.62 L535.65,1067.11 L536.15,1066.47 L536.65,1065.71 L537.15,1064.85 L537.65,1063.91 L538.15,1062.89 L538.65,1061.83 L539.15,1060.73 L539.65,1059.64 L540.15,1058.55 L540.65,1057.50 L541.15,1056.50 L541.65,1055.58 L542.15,1054.75 L542.65,1054.02 L543.15,1053.42 L543.65,1052.95 L544.15,1052.62 L544.65,1052.44 L545.00,1052.40 M556.35,1068.30 L556.85,1068.22 L557.35,1068.00 L557.85,1067.62 L558.35,1067.11 L558.85,1066.47 L559.35,1065.71 L559.85,1064.85 L560.35,1063.91 L560.85,1062.89 L561.35,1061.83 L561.85,1060.73 L562.35,1059.64 L562.85,1058.55 L563.35,1057.50 L563.85,1056.50 L564.35,1055.58 L564.85,1054.75 L565.35,1054.02 L565.85,1053.42 L566.35,1052.95 L566.85,1052.62 L567.35,1052.44 L567.70,1052.40 M579.05,1068.30 L579.55,1068.22 L580.05,1068.00 L580.55,1067.62 L581.05,1067.11 L581.55,1066.47 L582.05,1065.71 L582.55,1064.85 L583.05,1063.91 L583.55,1062.89 L584.05,1061.83 L584.55,1060.73 L585.05,1059.64 L585.55,1058.55 L586.05,1057.50 L586.55,1056.50 L587.05,1055.58 L587.55,1054.75 L588.05,1054.02 L588.55,1053.42 L589.05,1052.95 L589.55,1052.62 L590.05,1052.44 L590.40,1052.40 M601.75,1068.30 L602.25,1068.22 L602.75,1068.00 L603.25,1067.62 L603.75,1067.11 L604.25,1066.47 L604.75,1065.71 L605.25,1064.85 L605.75,1063.91 L606.25,1062.89 L606.75,1061.83 L607.25,1060.73 L607.75,1059.64 L608.25,1058.55 L608.75,1057.50 L609.25,1056.50 L609.75,1055.58 L610.25,1054.75 L610.75,1054.02 L611.25,1053.42 L611.75,1052.95 L612.25,1052.62 L612.75,1052.44 L613.10,1052.40 M624.45,1068.30 L624.95,1068.22 L625.45,1068.00 L625.95,1067.62 L626.45,1067.11 L626.95,1066.47 L627.45,1065.71 L627.95,1064.85 L628.45,1063.91 L628.95,1062.89 L629.45,1061.83 L629.95,1060.73 L630.45,1059.64 L630.95,1058.55 L631.45,1057.50 L631.95,1056.50 L632.45,1055.58 L632.95,1054.75 L633.45,1054.02 L633.95,1053.42 L634.45,1052.95 L634.95,1052.62 L635.45,1052.44 L635.80,1052.40" stroke="#a8cade" stroke-width="1.6" fill="none" stroke-linecap="round"/>
<path d="M533.00,1068.17 L533.50,1068.29 L533.65,1068.30 M545.00,1052.40 L545.50,1052.48 L546.00,1052.70 L546.50,1053.08 L547.00,1053.59 L547.50,1054.23 L548.00,1054.99 L548.50,1055.85 L549.00,1056.79 L549.50,1057.81 L550.00,1058.87 L550.50,1059.97 L551.00,1061.06 L551.50,1062.15 L552.00,1063.20 L552.50,1064.20 L553.00,1065.12 L553.50,1065.95 L554.00,1066.68 L554.50,1067.28 L555.00,1067.75 L555.50,1068.08 L556.00,1068.26 L556.35,1068.30 M567.70,1052.40 L568.20,1052.48 L568.70,1052.70 L569.20,1053.08 L569.70,1053.59 L570.20,1054.23 L570.70,1054.99 L571.20,1055.85 L571.70,1056.79 L572.20,1057.81 L572.70,1058.87 L573.20,1059.97 L573.70,1061.06 L574.20,1062.15 L574.70,1063.20 L575.20,1064.20 L575.70,1065.12 L576.20,1065.95 L576.70,1066.68 L577.20,1067.28 L577.70,1067.75 L578.20,1068.08 L578.70,1068.26 L579.05,1068.30 M590.40,1052.40 L590.90,1052.48 L591.40,1052.70 L591.90,1053.08 L592.40,1053.59 L592.90,1054.23 L593.40,1054.99 L593.90,1055.85 L594.40,1056.79 L594.90,1057.81 L595.40,1058.87 L595.90,1059.97 L596.40,1061.06 L596.90,1062.15 L597.40,1063.20 L597.90,1064.20 L598.40,1065.12 L598.90,1065.95 L599.40,1066.68 L599.90,1067.28 L600.40,1067.75 L600.90,1068.08 L601.40,1068.26 L601.75,1068.30 M613.10,1052.40 L613.60,1052.48 L614.10,1052.70 L614.60,1053.08 L615.10,1053.59 L615.60,1054.23 L616.10,1054.99 L616.60,1055.85 L617.10,1056.79 L617.60,1057.81 L618.10,1058.87 L618.60,1059.97 L619.10,1061.06 L619.60,1062.15 L620.10,1063.20 L620.60,1064.20 L621.10,1065.12 L621.60,1065.95 L622.10,1066.68 L622.60,1067.28 L623.10,1067.75 L623.60,1068.08 L624.10,1068.26 L624.45,1068.30" stroke="#3a6890" stroke-width="2.2" fill="none" stroke-linecap="round"/>
<path d="M647.15,1068.30 L647.65,1068.22 L648.15,1068.00 L648.65,1067.62 L649.15,1067.11 L649.65,1066.47 L650.15,1065.71 L650.65,1064.85 L651.15,1063.91 L651.65,1062.89 L652.15,1061.83 L652.65,1060.73 L653.15,1059.64 L653.65,1058.55 L654.15,1057.50 L654.65,1056.50 L655.15,1055.58 L655.65,1054.75 L656.15,1054.02 L656.65,1053.42 L657.15,1052.95 L657.65,1052.62 L658.15,1052.44 L658.50,1052.40 M669.85,1068.30 L670.35,1068.22 L670.85,1068.00 L671.35,1067.62 L671.85,1067.11 L672.35,1066.47 L672.85,1065.71 L673.35,1064.85 L673.85,1063.91 L674.35,1062.89 L674.85,1061.83 L675.35,1060.73 L675.85,1059.64 L676.35,1058.55 L676.85,1057.50 L677.35,1056.50 L677.85,1055.58 L678.35,1054.75 L678.85,1054.02 L679.35,1053.42 L679.50,1053.26" stroke="#a3c096" stroke-width="1.6" fill="none" stroke-linecap="round"/>
<path d="M635.80,1052.40 L636.30,1052.48 L636.80,1052.70 L637.30,1053.08 L637.80,1053.59 L638.30,1054.23 L638.80,1054.99 L639.30,1055.85 L639.80,1056.79 L640.30,1057.81 L640.80,1058.87 L641.30,1059.97 L641.80,1061.06 L642.30,1062.15 L642.80,1063.20 L643.30,1064.20 L643.80,1065.12 L644.30,1065.95 L644.80,1066.68 L645.30,1067.28 L645.80,1067.75 L646.30,1068.08 L646.80,1068.26 L647.15,1068.30 M658.50,1052.40 L659.00,1052.48 L659.50,1052.70 L660.00,1053.08 L660.50,1053.59 L661.00,1054.23 L661.50,1054.99 L662.00,1055.85 L662.50,1056.79 L663.00,1057.81 L663.50,1058.87 L664.00,1059.97 L664.50,1061.06 L665.00,1062.15 L665.50,1063.20 L666.00,1064.20 L666.50,1065.12 L667.00,1065.95 L667.50,1066.68 L668.00,1067.28 L668.50,1067.75 L669.00,1068.08 L669.50,1068.26 L669.85,1068.30" stroke="#3d6a2c" stroke-width="2.2" fill="none" stroke-linecap="round"/>
<path d="M638.3000000000001,985.7 C638.3000000000001,981.2 654.9,981.2 654.9,985.7 C654.9,991.2 649.6,998.7 646.6,998.7 C643.6,998.7 638.3000000000001,991.2 638.3000000000001,985.7 Z" stroke="none" stroke-width="1" fill="#6b9260" />
<path d="M661.0,985.7 C661.0,981.2 677.5999999999999,981.2 677.5999999999999,985.7 C677.5999999999999,991.2 672.3,998.7 669.3,998.7 C666.3,998.7 661.0,991.2 661.0,985.7 Z" stroke="none" stroke-width="1" fill="#6b9260" />
<path d="M678.9000000000001,1014.3 C678.9000000000001,1009.8 695.5,1009.8 695.5,1014.3 C695.5,1019.8 690.2,1027.3 687.2,1027.3 C684.2,1027.3 678.9000000000001,1019.8 678.9000000000001,1014.3 Z" stroke="none" stroke-width="1" fill="#6b9260" />
<path d="M701.7,1014.3 C701.7,1009.8 718.3,1009.8 718.3,1014.3 C718.3,1019.8 713,1027.3 710,1027.3 C707,1027.3 701.7,1019.8 701.7,1014.3 Z" stroke="none" stroke-width="1" fill="#6b9260" />
<path d="M638.3000000000001,1046.3 C638.3000000000001,1041.8 654.9,1041.8 654.9,1046.3 C654.9,1051.8 649.6,1059.3 646.6,1059.3 C643.6,1059.3 638.3000000000001,1051.8 638.3000000000001,1046.3 Z" stroke="none" stroke-width="1" fill="#6b9260" />
<path d="M661.0,1046.3 C661.0,1041.8 677.5999999999999,1041.8 677.5999999999999,1046.3 C677.5999999999999,1051.8 672.3,1059.3 669.3,1059.3 C666.3,1059.3 661.0,1051.8 661.0,1046.3 Z" stroke="none" stroke-width="1" fill="#6b9260" />
<text x="518" y="1032" font-size="9" fill="#4a6d9a" font-weight="bold" font-style="normal" font-family="Liberation Sans" textLength="53.5" lengthAdjust="spacingAndGlyphs" >Sirt1 mRNA</text>
<text x="691" y="1006.5" font-size="8" fill="#8a8a40" font-weight="bold" font-style="normal" font-family="Liberation Sans" textLength="18.5" lengthAdjust="spacingAndGlyphs" >HuR</text>
<path d="M689,1006.5 Q702,1003 716,1004.5" stroke="#3a86e6" stroke-width="1.8" fill="none" />
<text x="684.5" y="1048.5" font-size="8" fill="#8a8a40" font-weight="bold" font-style="normal" font-family="Liberation Sans" textLength="28" lengthAdjust="spacingAndGlyphs" >3' UTR</text>
<path d="M680,1045 Q700,1044 718,1049" stroke="#3a86e6" stroke-width="1.8" fill="none" />
<line x1="621" y1="1076.5" x2="621" y2="1095" stroke="#111" stroke-width="2.4" />
<path d="M616.8,1094.0 L625.2,1094.0 L621,1101 Z" stroke="none" stroke-width="1" fill="#111" />
<text x="597" y="1116" font-size="9.5" fill="#222" font-weight="bold" font-style="normal" font-family="Liberation Sans" textLength="50" lengthAdjust="spacingAndGlyphs" >Translation</text>
<line x1="621" y1="1120.5" x2="621" y2="1139" stroke="#111" stroke-width="2.4" />
<path d="M616.8,1138.0 L625.2,1138.0 L621,1145 Z" stroke="none" stroke-width="1" fill="#111" />
<g transform="translate(577,1153.5) rotate(-22)">
<rect x="-22.5" y="-12.5" width="45" height="25" rx="3" fill="url(#tg)"/>
<text x="0" y="3.8" text-anchor="middle" font-size="10.5" font-family="Liberation Sans" font-weight="bold" fill="#15283a" textLength="22.5" lengthAdjust="spacingAndGlyphs">Sirt1</text>
</g>
<g transform="translate(664,1153.5) rotate(22)">
<rect x="-22.5" y="-12.5" width="45" height="25" rx="3" fill="url(#tg)"/>
<text x="0" y="3.8" text-anchor="middle" font-size="10.5" font-family="Liberation Sans" font-weight="bold" fill="#15283a" textLength="22.5" lengthAdjust="spacingAndGlyphs">Sirt1</text>
</g>
<g transform="translate(620.5,1179) rotate(0)">
<rect x="-22.5" y="-12.0" width="45" height="24" rx="3" fill="url(#tg)"/>
<text x="0" y="3.8" text-anchor="middle" font-size="10.5" font-family="Liberation Sans" font-weight="bold" fill="#15283a" textLength="22.5" lengthAdjust="spacingAndGlyphs">Sirt1</text>
</g>
<g transform="translate(577,1204) rotate(22)">
<rect x="-22.5" y="-12.5" width="45" height="25" rx="3" fill="url(#tg)"/>
<text x="0" y="3.8" text-anchor="middle" font-size="10.5" font-family="Liberation Sans" font-weight="bold" fill="#15283a" textLength="22.5" lengthAdjust="spacingAndGlyphs">Sirt1</text>
</g>
<g transform="translate(664,1204) rotate(-22)">
<rect x="-22.5" y="-12.5" width="45" height="25" rx="3" fill="url(#tg)"/>
<text x="0" y="3.8" text-anchor="middle" font-size="10.5" font-family="Liberation Sans" font-weight="bold" fill="#15283a" textLength="22.5" lengthAdjust="spacingAndGlyphs">Sirt1</text>
</g>
<text x="755" y="1043.5" font-size="9" fill="#4a6d9a" font-weight="bold" font-style="normal" font-family="Liberation Sans" textLength="52.5" lengthAdjust="spacingAndGlyphs" >Sirt1 mRNA</text>
<path d="M749.25,1068.50 L749.75,1068.42 L750.25,1068.18 L750.75,1067.78 L751.25,1067.23 L751.75,1066.54 L752.25,1065.73 L752.75,1064.81 L753.25,1063.80 L753.75,1062.72 L754.25,1061.58 L754.75,1060.41 L755.25,1059.24 L755.75,1058.08 L756.25,1056.95 L756.75,1055.89 L757.25,1054.90 L757.75,1054.01 L758.25,1053.24 L758.75,1052.59 L759.25,1052.09 L759.75,1051.73 L760.25,1051.54 L760.60,1051.50 M771.95,1068.50 L772.45,1068.42 L772.95,1068.18 L773.45,1067.78 L773.95,1067.23 L774.45,1066.54 L774.95,1065.73 L775.45,1064.81 L775.95,1063.80 L776.45,1062.72 L776.95,1061.58 L777.45,1060.41 L777.95,1059.24 L778.45,1058.08 L778.95,1056.95 L779.45,1055.89 L779.95,1054.90 L780.45,1054.01 L780.95,1053.24 L781.45,1052.59 L781.95,1052.09 L782.45,1051.73 L782.95,1051.54 L783.30,1051.50 M794.65,1068.50 L795.15,1068.42 L795.65,1068.18 L796.15,1067.78 L796.65,1067.23 L797.15,1066.54 L797.65,1065.73 L798.15,1064.81 L798.65,1063.80 L799.15,1062.72 L799.65,1061.58 L800.15,1060.41 L800.65,1059.24 L801.15,1058.08 L801.65,1056.95 L802.15,1055.89 L802.65,1054.90 L803.15,1054.01 L803.65,1053.24 L804.15,1052.59 L804.65,1052.09 L805.15,1051.73 L805.65,1051.54 L806.00,1051.50 M817.35,1068.50 L817.85,1068.42 L818.35,1068.18 L818.85,1067.78 L819.35,1067.23 L819.85,1066.54 L820.35,1065.73 L820.85,1064.81 L821.35,1063.80 L821.85,1062.72 L822.35,1061.58 L822.85,1060.41 L823.35,1059.24 L823.85,1058.08 L824.35,1056.95 L824.85,1055.89 L825.35,1054.90 L825.85,1054.01 L826.35,1053.24 L826.85,1052.59 L827.35,1052.09 L827.85,1051.73 L828.35,1051.54 L828.70,1051.50 M840.05,1068.50 L840.55,1068.42 L841.05,1068.18 L841.55,1067.78 L842.05,1067.23 L842.55,1066.54 L843.05,1065.73 L843.55,1064.81 L844.05,1063.80 L844.55,1062.72 L845.05,1061.58 L845.55,1060.41 L846.05,1059.24 L846.55,1058.08 L847.05,1056.95 L847.55,1055.89 L848.05,1054.90 L848.55,1054.01 L849.05,1053.24 L849.55,1052.59 L850.05,1052.09 L850.55,1051.73 L851.05,1051.54 L851.40,1051.50 M862.75,1068.50 L863.25,1068.42 L863.75,1068.18 L864.25,1067.78 L864.75,1067.23 L865.25,1066.54 L865.75,1065.73 L866.25,1064.81 L866.75,1063.80 L867.25,1062.72 L867.75,1061.58 L868.25,1060.41 L868.75,1059.24 L869.25,1058.08 L869.75,1056.95 L870.25,1055.89 L870.75,1054.90 L871.25,1054.01 L871.75,1053.24 L872.25,1052.59 L872.75,1052.09 L873.25,1051.73 L873.75,1051.54 L874.10,1051.50 M885.45,1068.50 L885.95,1068.42 L886.45,1068.18 L886.95,1067.78 L887.45,1067.23 L887.95,1066.54 L888.45,1065.73 L888.95,1064.81 L889.45,1063.80 L889.95,1062.72 L890.45,1061.58 L890.95,1060.41 L891.45,1059.24 L891.95,1058.08 L892.45,1056.95 L892.95,1055.89 L893.45,1054.90 L893.95,1054.01 L894.45,1053.24 L894.95,1052.59 L895.45,1052.09 L895.50,1052.04" stroke="#a8cade" stroke-width="1.6" fill="none" stroke-linecap="round"/>
<path d="M749.00,1068.48 L749.25,1068.50 M760.60,1051.50 L761.10,1051.58 L761.60,1051.82 L762.10,1052.22 L762.60,1052.77 L763.10,1053.46 L763.60,1054.27 L764.10,1055.19 L764.60,1056.20 L765.10,1057.28 L765.60,1058.42 L766.10,1059.59 L766.60,1060.76 L767.10,1061.92 L767.60,1063.05 L768.10,1064.11 L768.60,1065.10 L769.10,1065.99 L769.60,1066.76 L770.10,1067.41 L770.60,1067.91 L771.10,1068.27 L771.60,1068.46 L771.95,1068.50 M783.30,1051.50 L783.80,1051.58 L784.30,1051.82 L784.80,1052.22 L785.30,1052.77 L785.80,1053.46 L786.30,1054.27 L786.80,1055.19 L787.30,1056.20 L787.80,1057.28 L788.30,1058.42 L788.80,1059.59 L789.30,1060.76 L789.80,1061.92 L790.30,1063.05 L790.80,1064.11 L791.30,1065.10 L791.80,1065.99 L792.30,1066.76 L792.80,1067.41 L793.30,1067.91 L793.80,1068.27 L794.30,1068.46 L794.65,1068.50 M806.00,1051.50 L806.50,1051.58 L807.00,1051.82 L807.50,1052.22 L808.00,1052.77 L808.50,1053.46 L809.00,1054.27 L809.50,1055.19 L810.00,1056.20 L810.50,1057.28 L811.00,1058.42 L811.50,1059.59 L812.00,1060.76 L812.50,1061.92 L813.00,1063.05 L813.50,1064.11 L814.00,1065.10 L814.50,1065.99 L815.00,1066.76 L815.50,1067.41 L816.00,1067.91 L816.50,1068.27 L817.00,1068.46 L817.35,1068.50 M828.70,1051.50 L829.20,1051.58 L829.70,1051.82 L830.20,1052.22 L830.70,1052.77 L831.20,1053.46 L831.70,1054.27 L832.20,1055.19 L832.70,1056.20 L833.20,1057.28 L833.70,1058.42 L834.20,1059.59 L834.70,1060.76 L835.20,1061.92 L835.70,1063.05 L836.20,1064.11 L836.70,1065.10 L837.20,1065.99 L837.70,1066.76 L838.20,1067.41 L838.70,1067.91 L839.20,1068.27 L839.70,1068.46 L840.05,1068.50 M851.40,1051.50 L851.90,1051.58 L852.40,1051.82 L852.90,1052.22 L853.40,1052.77 L853.90,1053.46 L854.40,1054.27 L854.90,1055.19 L855.40,1056.20 L855.90,1057.28 L856.40,1058.42 L856.90,1059.59 L857.40,1060.76 L857.90,1061.92 L858.40,1063.05 L858.90,1064.11 L859.40,1065.10 L859.90,1065.99 L860.40,1066.76 L860.90,1067.41 L861.40,1067.91 L861.90,1068.27 L862.40,1068.46 L862.75,1068.50 M874.10,1051.50 L874.60,1051.58 L875.10,1051.82 L875.60,1052.22 L876.10,1052.77 L876.60,1053.46 L877.10,1054.27 L877.60,1055.19 L878.10,1056.20 L878.60,1057.28 L879.10,1058.42 L879.60,1059.59 L880.10,1060.76 L880.60,1061.92 L881.10,1063.05 L881.60,1064.11 L882.10,1065.10 L882.60,1065.99 L883.10,1066.76 L883.60,1067.41 L884.10,1067.91 L884.60,1068.27 L885.10,1068.46 L885.45,1068.50" stroke="#3a6890" stroke-width="2.2" fill="none" stroke-linecap="round"/>
<path d="M850.50,1068.50 L851.00,1068.42 L851.50,1068.18 L852.00,1067.78 L852.50,1067.23 L853.00,1066.54 L853.50,1065.73 L854.00,1064.81 L854.50,1063.80 L855.00,1062.72 L855.50,1061.58 L856.00,1060.41 L856.50,1059.24 L857.00,1058.08 L857.50,1056.95 L858.00,1055.89 L858.50,1054.90 L859.00,1054.01 L859.50,1053.24 L860.00,1052.59 L860.50,1052.09 L861.00,1051.73 L861.50,1051.54 L861.85,1051.50 M873.20,1068.50 L873.70,1068.42 L874.20,1068.18 L874.70,1067.78 L875.20,1067.23 L875.70,1066.54 L876.20,1065.73 L876.70,1064.81 L877.20,1063.80 L877.70,1062.72 L878.20,1061.58 L878.70,1060.41 L879.20,1059.24 L879.70,1058.08 L880.20,1056.95 L880.70,1055.89 L881.20,1054.90 L881.70,1054.01 L882.20,1053.24 L882.70,1052.59 L883.20,1052.09 L883.70,1051.73 L884.20,1051.54 L884.55,1051.50" stroke="#dba5b0" stroke-width="1.6" fill="none" stroke-linecap="round"/>
<path d="M861.85,1051.50 L862.35,1051.58 L862.85,1051.82 L863.35,1052.22 L863.85,1052.77 L864.35,1053.46 L864.85,1054.27 L865.35,1055.19 L865.85,1056.20 L866.35,1057.28 L866.85,1058.42 L867.35,1059.59 L867.85,1060.76 L868.35,1061.92 L868.85,1063.05 L869.35,1064.11 L869.85,1065.10 L870.35,1065.99 L870.85,1066.76 L871.35,1067.41 L871.85,1067.91 L872.35,1068.27 L872.85,1068.46 L873.20,1068.50 M884.55,1051.50 L885.05,1051.58 L885.55,1051.82 L886.05,1052.22 L886.55,1052.77 L887.05,1053.46 L887.55,1054.27 L888.05,1055.19 L888.55,1056.20 L889.05,1057.28 L889.55,1058.42 L890.05,1059.59 L890.55,1060.76 L891.05,1061.92 L891.55,1063.05 L892.05,1064.11 L892.55,1065.10 L893.05,1065.99 L893.55,1066.76 L894.05,1067.41 L894.55,1067.91 L895.05,1068.27 L895.50,1068.45" stroke="#8a2038" stroke-width="2.2" fill="none" stroke-linecap="round"/>
<ellipse cx="860.5" cy="1048.8" rx="7.2" ry="6.5" fill="#f50000"/>
<ellipse cx="873.9" cy="1047.9" rx="7.2" ry="6.5" fill="#f50000"/>
<ellipse cx="889.4" cy="1046.5" rx="7.2" ry="6.5" fill="#f50000"/>
<line x1="804.5" y1="1077.5" x2="804.5" y2="1099" stroke="#222" stroke-width="1.6" stroke-dasharray="3,2"/>
<path d="M800.9,1098.0 L808.1,1098.0 L804.5,1104 Z" stroke="none" stroke-width="1" fill="#222" />
<text x="781" y="1116" font-size="9.5" fill="#777" font-weight="normal" font-style="normal" font-family="Liberation Sans" textLength="49" lengthAdjust="spacingAndGlyphs" >Translation</text>
<line x1="804.5" y1="1120.5" x2="804.5" y2="1142.5" stroke="#222" stroke-width="1.6" stroke-dasharray="3,2"/>
<path d="M800.9,1141.5 L808.1,1141.5 L804.5,1147.5 Z" stroke="none" stroke-width="1" fill="#222" />
<g transform="translate(806.2,1166.3) rotate(0)">
<rect x="-23.0" y="-12.5" width="46" height="25" rx="3" fill="url(#tg)"/>
<text x="0" y="3.8" text-anchor="middle" font-size="10.5" font-family="Liberation Sans" font-weight="bold" fill="#15283a" textLength="23.0" lengthAdjust="spacingAndGlyphs">Sirt1</text>
</g>
<text x="395" y="1284" font-size="16.5" fill="#c00010" font-weight="bold" font-style="italic" font-family="Liberation Sans" textLength="48" lengthAdjust="spacingAndGlyphs" >Basal</text>
<text x="372.5" y="1298.5" font-size="16.5" fill="#c00010" font-weight="bold" font-style="italic" font-family="Liberation Sans" textLength="92" lengthAdjust="spacingAndGlyphs" >Expression</text>
<text x="577" y="1284" font-size="16.5" fill="#c00010" font-weight="bold" font-style="italic" font-family="Liberation Sans" textLength="83.5" lengthAdjust="spacingAndGlyphs" >Increased</text>
<text x="573" y="1298.5" font-size="16.5" fill="#c00010" font-weight="bold" font-style="italic" font-family="Liberation Sans" textLength="92" lengthAdjust="spacingAndGlyphs" >Expression</text>
<text x="773" y="1282" font-size="16.5" fill="#c00010" font-weight="bold" font-style="italic" font-family="Liberation Sans" textLength="90" lengthAdjust="spacingAndGlyphs" >Decreased</text>
<text x="772" y="1295.5" font-size="16.5" fill="#c00010" font-weight="bold" font-style="italic" font-family="Liberation Sans" textLength="92" lengthAdjust="spacingAndGlyphs" >Expression</text>
<circle cx="762" cy="1283" r="1" fill="#7aa0e0" />
<text x="1147" y="1518" font-size="25" fill="#111" font-weight="bold" font-style="normal" font-family="Liberation Serif" textLength="10" lengthAdjust="spacingAndGlyphs" >1</text>
</svg>
</body></html>
